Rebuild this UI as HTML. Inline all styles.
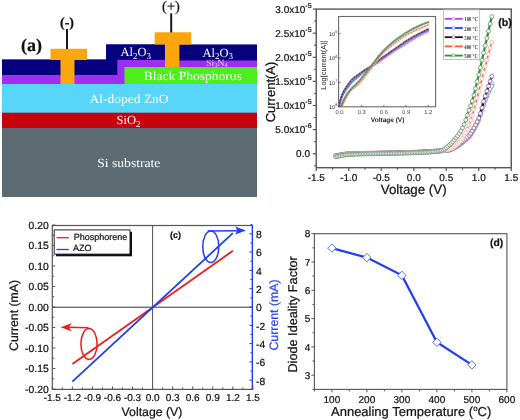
<!DOCTYPE html>
<html><head><meta charset="utf-8"><style>
html,body{margin:0;padding:0;background:#fff;width:520px;height:420px;overflow:hidden}
svg{display:block} text{-webkit-font-smoothing:antialiased;text-rendering:geometricPrecision} body{will-change:transform}
</style></head><body>
<svg width="520" height="420" viewBox="0 0 520 420">
<rect width="520" height="420" fill="#fff"/>
<rect x="2" y="59.5" width="255" height="25" fill="#9e2ff0"/>
<path d="M2,59.5 H106 V44.3 H166 V60 H117.3 V75 H2 Z" fill="#06017e"/>
<rect x="179" y="44.4" width="78" height="16.1" fill="#06017e"/>
<rect x="124.5" y="67" width="132.5" height="17.5" fill="#4cee1e"/>
<rect x="2" y="84" width="255" height="29" fill="#58d6f9"/>
<rect x="2" y="112.7" width="255" height="15.6" fill="#c6020c"/>
<rect x="2" y="128" width="255" height="69" fill="#5b6b71"/>
<path d="M50.5,48.8 H87 V60 H74.5 V84 H60.5 V60 H50.5 Z" fill="#faa60c"/>
<path d="M154.7,32.3 H191.2 V44.4 H179.4 V67 H165 V44.4 H154.7 Z" fill="#faa60c"/>
<rect x="66" y="29" width="2" height="20" fill="#1a1a1a"/>
<rect x="170.2" y="13.3" width="2" height="19.2" fill="#1a1a1a"/>
<text stroke="#111" stroke-width="0.22" x="21" y="50.5" font-family='"Liberation Serif", serif' font-weight="bold" font-size="18" fill="#111">(a)</text>
<text stroke="#111" stroke-width="0.22" x="67" y="26.8" text-anchor="middle" font-family='"Liberation Serif", serif' font-weight="bold" font-size="14" fill="#111">(-)</text>
<text stroke="#111" stroke-width="0.22" x="171" y="10.5" text-anchor="middle" font-family='"Liberation Serif", serif' font-size="14.5" fill="#111">(+)</text>
<text x="120.5" y="56.2" font-family='"Liberation Serif", serif' font-size="12.5" fill="#fff">Al<tspan font-size="9" dy="2.5">2</tspan><tspan dy="-2.5">O</tspan><tspan font-size="9" dy="2.5">3</tspan></text>
<text x="202.5" y="56.8" font-family='"Liberation Serif", serif' font-size="12.5" fill="#fff">Al<tspan font-size="9" dy="2.5">2</tspan><tspan dy="-2.5">O</tspan><tspan font-size="9" dy="2.5">3</tspan></text>
<text x="206.3" y="66.2" font-family='"Liberation Serif", serif' font-size="9.5" fill="#f0c8f4">Si<tspan font-size="6.5" dy="1.2">3</tspan><tspan dy="-1.2">N</tspan><tspan font-size="6.5" dy="1.2">4</tspan></text>
<text x="143.8" y="80" textLength="98" lengthAdjust="spacingAndGlyphs" font-family='"Liberation Serif", serif' font-size="12.5" fill="#fff">Black Phosphorus</text>
<text x="89.6" y="103.3" textLength="79" lengthAdjust="spacingAndGlyphs" font-family='"Liberation Serif", serif' font-size="12.5" fill="#fff">Al-doped ZnO</text>
<text x="116.5" y="124.4" font-family='"Liberation Serif", serif' font-size="12.5" fill="#fff">SiO<tspan font-size="9" dy="2.5">2</tspan></text>
<text x="97.3" y="167.1" textLength="63" lengthAdjust="spacingAndGlyphs" font-family='"Liberation Serif", serif' font-size="12.5" fill="#fff">Si substrate</text>
<path d="M335.75,155.63 L337.38,155.32 L339,155.02 L340.62,154.72 L342.25,154.43 L343.88,154.18 L345.5,153.97 L347.12,153.8 L348.75,153.7 L350.37,153.63 L352,153.57 L353.62,153.52 L355.25,153.47 L356.87,153.42 L358.5,153.38 L360.12,153.35 L361.75,153.31 L363.37,153.28 L365,153.25 L366.62,153.23 L368.25,153.2 L369.87,153.18 L371.5,153.15 L373.12,153.13 L374.75,153.1 L376.37,153.07 L378,153.04 L379.62,153.01 L381.25,152.98 L382.87,152.94 L384.5,152.91 L386.12,152.87 L387.75,152.84 L389.37,152.81 L391,152.78 L392.62,152.75 L394.25,152.72 L395.87,152.69 L397.5,152.65 L399.12,152.62 L400.75,152.59 L402.37,152.55 L404,152.52 L405.62,152.48 L407.25,152.44 L408.87,152.4 L410.5,152.35 L412.12,152.3 L413.75,152.25 L415.37,152.2 L417,152.14 L418.62,152.07 L420.25,151.99 L421.87,151.91 L423.5,151.83 L425.12,151.74 L426.75,151.65 L428.37,151.56 L430,151.47 L431.62,151.38 L433.25,151.29 L434.87,151.21 L436.5,151.13 L438.12,151.06 L439.75,150.99 L441.37,150.91 L443,150.81 L444.62,150.7 L446.25,150.57 L447.87,150.41 L449.5,150.17 L451.12,149.65 L452.75,148.92 L454.37,148.04 L456,147.11 L457.62,146.17 L459.25,145.12 L460.87,143.93 L462.5,142.66 L464.12,141.33 L465.75,139.98 L467.37,138.56 L469,136.96 L470.62,135.05 L472.25,132.63 L473.87,129.9 L475.5,127.08 L477.12,124.03 L478.75,120.45 L480.37,115.86 L482,110.61 L483.62,105.5 L485.25,100.73 L486.87,96.1 L488.5,91.75 L490.12,87.66 L491.75,83.81" fill="none" stroke="#b040e8" stroke-width="2.2"/>
<circle cx="335.75" cy="155.63" r="1.95" fill="#fff" stroke="#c888e8" stroke-width="0.85"/>
<circle cx="337.38" cy="155.32" r="1.95" fill="#fff" stroke="#c888e8" stroke-width="0.85"/>
<circle cx="339" cy="155.02" r="1.95" fill="#fff" stroke="#c888e8" stroke-width="0.85"/>
<circle cx="340.62" cy="154.72" r="1.95" fill="#fff" stroke="#c888e8" stroke-width="0.85"/>
<circle cx="342.25" cy="154.43" r="1.95" fill="#fff" stroke="#c888e8" stroke-width="0.85"/>
<circle cx="343.88" cy="154.18" r="1.95" fill="#fff" stroke="#c888e8" stroke-width="0.85"/>
<circle cx="345.5" cy="153.97" r="1.95" fill="#fff" stroke="#c888e8" stroke-width="0.85"/>
<circle cx="347.12" cy="153.8" r="1.95" fill="#fff" stroke="#c888e8" stroke-width="0.85"/>
<circle cx="348.75" cy="153.7" r="1.95" fill="#fff" stroke="#c888e8" stroke-width="0.85"/>
<circle cx="350.37" cy="153.63" r="1.95" fill="#fff" stroke="#c888e8" stroke-width="0.85"/>
<circle cx="352" cy="153.57" r="1.95" fill="#fff" stroke="#c888e8" stroke-width="0.85"/>
<circle cx="353.62" cy="153.52" r="1.95" fill="#fff" stroke="#c888e8" stroke-width="0.85"/>
<circle cx="355.25" cy="153.47" r="1.95" fill="#fff" stroke="#c888e8" stroke-width="0.85"/>
<circle cx="356.87" cy="153.42" r="1.95" fill="#fff" stroke="#c888e8" stroke-width="0.85"/>
<circle cx="358.5" cy="153.38" r="1.95" fill="#fff" stroke="#c888e8" stroke-width="0.85"/>
<circle cx="360.12" cy="153.35" r="1.95" fill="#fff" stroke="#c888e8" stroke-width="0.85"/>
<circle cx="361.75" cy="153.31" r="1.95" fill="#fff" stroke="#c888e8" stroke-width="0.85"/>
<circle cx="363.37" cy="153.28" r="1.95" fill="#fff" stroke="#c888e8" stroke-width="0.85"/>
<circle cx="365" cy="153.25" r="1.95" fill="#fff" stroke="#c888e8" stroke-width="0.85"/>
<circle cx="366.62" cy="153.23" r="1.95" fill="#fff" stroke="#c888e8" stroke-width="0.85"/>
<circle cx="368.25" cy="153.2" r="1.95" fill="#fff" stroke="#c888e8" stroke-width="0.85"/>
<circle cx="369.87" cy="153.18" r="1.95" fill="#fff" stroke="#c888e8" stroke-width="0.85"/>
<circle cx="371.5" cy="153.15" r="1.95" fill="#fff" stroke="#c888e8" stroke-width="0.85"/>
<circle cx="373.12" cy="153.13" r="1.95" fill="#fff" stroke="#c888e8" stroke-width="0.85"/>
<circle cx="374.75" cy="153.1" r="1.95" fill="#fff" stroke="#c888e8" stroke-width="0.85"/>
<circle cx="376.37" cy="153.07" r="1.95" fill="#fff" stroke="#c888e8" stroke-width="0.85"/>
<circle cx="378" cy="153.04" r="1.95" fill="#fff" stroke="#c888e8" stroke-width="0.85"/>
<circle cx="379.62" cy="153.01" r="1.95" fill="#fff" stroke="#c888e8" stroke-width="0.85"/>
<circle cx="381.25" cy="152.98" r="1.95" fill="#fff" stroke="#c888e8" stroke-width="0.85"/>
<circle cx="382.87" cy="152.94" r="1.95" fill="#fff" stroke="#c888e8" stroke-width="0.85"/>
<circle cx="384.5" cy="152.91" r="1.95" fill="#fff" stroke="#c888e8" stroke-width="0.85"/>
<circle cx="386.12" cy="152.87" r="1.95" fill="#fff" stroke="#c888e8" stroke-width="0.85"/>
<circle cx="387.75" cy="152.84" r="1.95" fill="#fff" stroke="#c888e8" stroke-width="0.85"/>
<circle cx="389.37" cy="152.81" r="1.95" fill="#fff" stroke="#c888e8" stroke-width="0.85"/>
<circle cx="391" cy="152.78" r="1.95" fill="#fff" stroke="#c888e8" stroke-width="0.85"/>
<circle cx="392.62" cy="152.75" r="1.95" fill="#fff" stroke="#c888e8" stroke-width="0.85"/>
<circle cx="394.25" cy="152.72" r="1.95" fill="#fff" stroke="#c888e8" stroke-width="0.85"/>
<circle cx="395.87" cy="152.69" r="1.95" fill="#fff" stroke="#c888e8" stroke-width="0.85"/>
<circle cx="397.5" cy="152.65" r="1.95" fill="#fff" stroke="#c888e8" stroke-width="0.85"/>
<circle cx="399.12" cy="152.62" r="1.95" fill="#fff" stroke="#c888e8" stroke-width="0.85"/>
<circle cx="400.75" cy="152.59" r="1.95" fill="#fff" stroke="#c888e8" stroke-width="0.85"/>
<circle cx="402.37" cy="152.55" r="1.95" fill="#fff" stroke="#c888e8" stroke-width="0.85"/>
<circle cx="404" cy="152.52" r="1.95" fill="#fff" stroke="#c888e8" stroke-width="0.85"/>
<circle cx="405.62" cy="152.48" r="1.95" fill="#fff" stroke="#c888e8" stroke-width="0.85"/>
<circle cx="407.25" cy="152.44" r="1.95" fill="#fff" stroke="#c888e8" stroke-width="0.85"/>
<circle cx="408.87" cy="152.4" r="1.95" fill="#fff" stroke="#c888e8" stroke-width="0.85"/>
<circle cx="410.5" cy="152.35" r="1.95" fill="#fff" stroke="#c888e8" stroke-width="0.85"/>
<circle cx="412.12" cy="152.3" r="1.95" fill="#fff" stroke="#c888e8" stroke-width="0.85"/>
<circle cx="413.75" cy="152.25" r="1.95" fill="#fff" stroke="#c888e8" stroke-width="0.85"/>
<circle cx="415.37" cy="152.2" r="1.95" fill="#fff" stroke="#c888e8" stroke-width="0.85"/>
<circle cx="417" cy="152.14" r="1.95" fill="#fff" stroke="#c888e8" stroke-width="0.85"/>
<circle cx="418.62" cy="152.07" r="1.95" fill="#fff" stroke="#c888e8" stroke-width="0.85"/>
<circle cx="420.25" cy="151.99" r="1.95" fill="#fff" stroke="#c888e8" stroke-width="0.85"/>
<circle cx="421.87" cy="151.91" r="1.95" fill="#fff" stroke="#c888e8" stroke-width="0.85"/>
<circle cx="423.5" cy="151.83" r="1.95" fill="#fff" stroke="#c888e8" stroke-width="0.85"/>
<circle cx="425.12" cy="151.74" r="1.95" fill="#fff" stroke="#c888e8" stroke-width="0.85"/>
<circle cx="426.75" cy="151.65" r="1.95" fill="#fff" stroke="#c888e8" stroke-width="0.85"/>
<circle cx="428.37" cy="151.56" r="1.95" fill="#fff" stroke="#c888e8" stroke-width="0.85"/>
<circle cx="430" cy="151.47" r="1.95" fill="#fff" stroke="#c888e8" stroke-width="0.85"/>
<circle cx="431.62" cy="151.38" r="1.95" fill="#fff" stroke="#c888e8" stroke-width="0.85"/>
<circle cx="433.25" cy="151.29" r="1.95" fill="#fff" stroke="#c888e8" stroke-width="0.85"/>
<circle cx="434.87" cy="151.21" r="1.95" fill="#fff" stroke="#c888e8" stroke-width="0.85"/>
<circle cx="436.5" cy="151.13" r="1.95" fill="#fff" stroke="#c888e8" stroke-width="0.85"/>
<circle cx="438.12" cy="151.06" r="1.95" fill="#fff" stroke="#c888e8" stroke-width="0.85"/>
<circle cx="439.75" cy="150.99" r="1.95" fill="#fff" stroke="#c888e8" stroke-width="0.85"/>
<circle cx="441.37" cy="150.91" r="1.95" fill="#fff" stroke="#c888e8" stroke-width="0.85"/>
<circle cx="443" cy="150.81" r="1.95" fill="#fff" stroke="#c888e8" stroke-width="0.85"/>
<circle cx="444.62" cy="150.7" r="1.95" fill="#fff" stroke="#c888e8" stroke-width="0.85"/>
<circle cx="446.25" cy="150.57" r="1.95" fill="#fff" stroke="#c888e8" stroke-width="0.85"/>
<circle cx="447.87" cy="150.41" r="1.95" fill="#fff" stroke="#c888e8" stroke-width="0.85"/>
<circle cx="449.5" cy="150.17" r="1.95" fill="#fff" stroke="#c888e8" stroke-width="0.85"/>
<circle cx="451.12" cy="149.65" r="1.95" fill="#fff" stroke="#c888e8" stroke-width="0.85"/>
<circle cx="452.75" cy="148.92" r="1.95" fill="#fff" stroke="#c888e8" stroke-width="0.85"/>
<circle cx="454.37" cy="148.04" r="1.95" fill="#fff" stroke="#c888e8" stroke-width="0.85"/>
<circle cx="456" cy="147.11" r="1.95" fill="#fff" stroke="#c888e8" stroke-width="0.85"/>
<circle cx="457.62" cy="146.17" r="1.95" fill="#fff" stroke="#c888e8" stroke-width="0.85"/>
<circle cx="459.25" cy="145.12" r="1.95" fill="#fff" stroke="#c888e8" stroke-width="0.85"/>
<circle cx="460.87" cy="143.93" r="1.95" fill="#fff" stroke="#c888e8" stroke-width="0.85"/>
<circle cx="462.5" cy="142.66" r="1.95" fill="#fff" stroke="#c888e8" stroke-width="0.85"/>
<circle cx="464.12" cy="141.33" r="1.95" fill="#fff" stroke="#c888e8" stroke-width="0.85"/>
<circle cx="465.75" cy="139.98" r="1.95" fill="#fff" stroke="#c888e8" stroke-width="0.85"/>
<circle cx="467.37" cy="138.56" r="1.95" fill="#fff" stroke="#c888e8" stroke-width="0.85"/>
<circle cx="469" cy="136.96" r="1.95" fill="#fff" stroke="#c888e8" stroke-width="0.85"/>
<circle cx="470.62" cy="135.05" r="1.95" fill="#fff" stroke="#c888e8" stroke-width="0.85"/>
<circle cx="472.25" cy="132.63" r="1.95" fill="#fff" stroke="#c888e8" stroke-width="0.85"/>
<circle cx="473.87" cy="129.9" r="1.95" fill="#fff" stroke="#c888e8" stroke-width="0.85"/>
<circle cx="475.5" cy="127.08" r="1.95" fill="#fff" stroke="#c888e8" stroke-width="0.85"/>
<circle cx="477.12" cy="124.03" r="1.95" fill="#fff" stroke="#c888e8" stroke-width="0.85"/>
<circle cx="478.75" cy="120.45" r="1.95" fill="#fff" stroke="#c888e8" stroke-width="0.85"/>
<circle cx="480.37" cy="115.86" r="1.95" fill="#fff" stroke="#c888e8" stroke-width="0.85"/>
<circle cx="482" cy="110.61" r="1.95" fill="#fff" stroke="#c888e8" stroke-width="0.85"/>
<circle cx="483.62" cy="105.5" r="1.95" fill="#fff" stroke="#c888e8" stroke-width="0.85"/>
<circle cx="485.25" cy="100.73" r="1.95" fill="#fff" stroke="#c888e8" stroke-width="0.85"/>
<circle cx="486.87" cy="96.1" r="1.95" fill="#fff" stroke="#c888e8" stroke-width="0.85"/>
<circle cx="488.5" cy="91.75" r="1.95" fill="#fff" stroke="#c888e8" stroke-width="0.85"/>
<circle cx="490.12" cy="87.66" r="1.95" fill="#fff" stroke="#c888e8" stroke-width="0.85"/>
<circle cx="491.75" cy="83.81" r="1.95" fill="#fff" stroke="#c888e8" stroke-width="0.85"/>
<path d="M335.75,155.87 L337.38,155.57 L339,155.26 L340.62,154.96 L342.25,154.68 L343.88,154.43 L345.5,154.22 L347.12,154.05 L348.75,153.94 L350.37,153.87 L352,153.8 L353.62,153.74 L355.25,153.68 L356.87,153.63 L358.5,153.58 L360.12,153.54 L361.75,153.5 L363.37,153.47 L365,153.44 L366.62,153.4 L368.25,153.37 L369.87,153.35 L371.5,153.32 L373.12,153.29 L374.75,153.26 L376.37,153.23 L378,153.19 L379.62,153.16 L381.25,153.12 L382.87,153.08 L384.5,153.05 L386.12,153.01 L387.75,152.98 L389.37,152.94 L391,152.91 L392.62,152.88 L394.25,152.84 L395.87,152.81 L397.5,152.78 L399.12,152.74 L400.75,152.71 L402.37,152.67 L404,152.63 L405.62,152.59 L407.25,152.55 L408.87,152.5 L410.5,152.45 L412.12,152.4 L413.75,152.35 L415.37,152.29 L417,152.22 L418.62,152.15 L420.25,152.07 L421.87,151.98 L423.5,151.89 L425.12,151.8 L426.75,151.7 L428.37,151.6 L430,151.5 L431.62,151.4 L433.25,151.29 L434.87,151.19 L436.5,151.1 L438.12,151.01 L439.75,150.91 L441.37,150.81 L443,150.69 L444.62,150.55 L446.25,150.38 L447.87,150.18 L449.5,149.9 L451.12,149.35 L452.75,148.57 L454.37,147.65 L456,146.66 L457.62,145.67 L459.25,144.57 L460.87,143.33 L462.5,142 L464.12,140.61 L465.75,139.21 L467.37,137.73 L469,136.05 L470.62,134.03 L472.25,131.41 L473.87,128.49 L475.5,125.6 L477.12,122.58 L478.75,119 L480.37,114.15 L482,108.61 L483.62,103.57 L485.25,99.37 L486.87,95.55 L488.5,92.12 L490.12,89 L491.75,86.22" fill="none" stroke="#1e3cff" stroke-width="2.2"/>
<circle cx="335.75" cy="155.87" r="1.95" fill="#fff" stroke="#7888f0" stroke-width="0.85"/>
<circle cx="337.38" cy="155.57" r="1.95" fill="#fff" stroke="#7888f0" stroke-width="0.85"/>
<circle cx="339" cy="155.26" r="1.95" fill="#fff" stroke="#7888f0" stroke-width="0.85"/>
<circle cx="340.62" cy="154.96" r="1.95" fill="#fff" stroke="#7888f0" stroke-width="0.85"/>
<circle cx="342.25" cy="154.68" r="1.95" fill="#fff" stroke="#7888f0" stroke-width="0.85"/>
<circle cx="343.88" cy="154.43" r="1.95" fill="#fff" stroke="#7888f0" stroke-width="0.85"/>
<circle cx="345.5" cy="154.22" r="1.95" fill="#fff" stroke="#7888f0" stroke-width="0.85"/>
<circle cx="347.12" cy="154.05" r="1.95" fill="#fff" stroke="#7888f0" stroke-width="0.85"/>
<circle cx="348.75" cy="153.94" r="1.95" fill="#fff" stroke="#7888f0" stroke-width="0.85"/>
<circle cx="350.37" cy="153.87" r="1.95" fill="#fff" stroke="#7888f0" stroke-width="0.85"/>
<circle cx="352" cy="153.8" r="1.95" fill="#fff" stroke="#7888f0" stroke-width="0.85"/>
<circle cx="353.62" cy="153.74" r="1.95" fill="#fff" stroke="#7888f0" stroke-width="0.85"/>
<circle cx="355.25" cy="153.68" r="1.95" fill="#fff" stroke="#7888f0" stroke-width="0.85"/>
<circle cx="356.87" cy="153.63" r="1.95" fill="#fff" stroke="#7888f0" stroke-width="0.85"/>
<circle cx="358.5" cy="153.58" r="1.95" fill="#fff" stroke="#7888f0" stroke-width="0.85"/>
<circle cx="360.12" cy="153.54" r="1.95" fill="#fff" stroke="#7888f0" stroke-width="0.85"/>
<circle cx="361.75" cy="153.5" r="1.95" fill="#fff" stroke="#7888f0" stroke-width="0.85"/>
<circle cx="363.37" cy="153.47" r="1.95" fill="#fff" stroke="#7888f0" stroke-width="0.85"/>
<circle cx="365" cy="153.44" r="1.95" fill="#fff" stroke="#7888f0" stroke-width="0.85"/>
<circle cx="366.62" cy="153.4" r="1.95" fill="#fff" stroke="#7888f0" stroke-width="0.85"/>
<circle cx="368.25" cy="153.37" r="1.95" fill="#fff" stroke="#7888f0" stroke-width="0.85"/>
<circle cx="369.87" cy="153.35" r="1.95" fill="#fff" stroke="#7888f0" stroke-width="0.85"/>
<circle cx="371.5" cy="153.32" r="1.95" fill="#fff" stroke="#7888f0" stroke-width="0.85"/>
<circle cx="373.12" cy="153.29" r="1.95" fill="#fff" stroke="#7888f0" stroke-width="0.85"/>
<circle cx="374.75" cy="153.26" r="1.95" fill="#fff" stroke="#7888f0" stroke-width="0.85"/>
<circle cx="376.37" cy="153.23" r="1.95" fill="#fff" stroke="#7888f0" stroke-width="0.85"/>
<circle cx="378" cy="153.19" r="1.95" fill="#fff" stroke="#7888f0" stroke-width="0.85"/>
<circle cx="379.62" cy="153.16" r="1.95" fill="#fff" stroke="#7888f0" stroke-width="0.85"/>
<circle cx="381.25" cy="153.12" r="1.95" fill="#fff" stroke="#7888f0" stroke-width="0.85"/>
<circle cx="382.87" cy="153.08" r="1.95" fill="#fff" stroke="#7888f0" stroke-width="0.85"/>
<circle cx="384.5" cy="153.05" r="1.95" fill="#fff" stroke="#7888f0" stroke-width="0.85"/>
<circle cx="386.12" cy="153.01" r="1.95" fill="#fff" stroke="#7888f0" stroke-width="0.85"/>
<circle cx="387.75" cy="152.98" r="1.95" fill="#fff" stroke="#7888f0" stroke-width="0.85"/>
<circle cx="389.37" cy="152.94" r="1.95" fill="#fff" stroke="#7888f0" stroke-width="0.85"/>
<circle cx="391" cy="152.91" r="1.95" fill="#fff" stroke="#7888f0" stroke-width="0.85"/>
<circle cx="392.62" cy="152.88" r="1.95" fill="#fff" stroke="#7888f0" stroke-width="0.85"/>
<circle cx="394.25" cy="152.84" r="1.95" fill="#fff" stroke="#7888f0" stroke-width="0.85"/>
<circle cx="395.87" cy="152.81" r="1.95" fill="#fff" stroke="#7888f0" stroke-width="0.85"/>
<circle cx="397.5" cy="152.78" r="1.95" fill="#fff" stroke="#7888f0" stroke-width="0.85"/>
<circle cx="399.12" cy="152.74" r="1.95" fill="#fff" stroke="#7888f0" stroke-width="0.85"/>
<circle cx="400.75" cy="152.71" r="1.95" fill="#fff" stroke="#7888f0" stroke-width="0.85"/>
<circle cx="402.37" cy="152.67" r="1.95" fill="#fff" stroke="#7888f0" stroke-width="0.85"/>
<circle cx="404" cy="152.63" r="1.95" fill="#fff" stroke="#7888f0" stroke-width="0.85"/>
<circle cx="405.62" cy="152.59" r="1.95" fill="#fff" stroke="#7888f0" stroke-width="0.85"/>
<circle cx="407.25" cy="152.55" r="1.95" fill="#fff" stroke="#7888f0" stroke-width="0.85"/>
<circle cx="408.87" cy="152.5" r="1.95" fill="#fff" stroke="#7888f0" stroke-width="0.85"/>
<circle cx="410.5" cy="152.45" r="1.95" fill="#fff" stroke="#7888f0" stroke-width="0.85"/>
<circle cx="412.12" cy="152.4" r="1.95" fill="#fff" stroke="#7888f0" stroke-width="0.85"/>
<circle cx="413.75" cy="152.35" r="1.95" fill="#fff" stroke="#7888f0" stroke-width="0.85"/>
<circle cx="415.37" cy="152.29" r="1.95" fill="#fff" stroke="#7888f0" stroke-width="0.85"/>
<circle cx="417" cy="152.22" r="1.95" fill="#fff" stroke="#7888f0" stroke-width="0.85"/>
<circle cx="418.62" cy="152.15" r="1.95" fill="#fff" stroke="#7888f0" stroke-width="0.85"/>
<circle cx="420.25" cy="152.07" r="1.95" fill="#fff" stroke="#7888f0" stroke-width="0.85"/>
<circle cx="421.87" cy="151.98" r="1.95" fill="#fff" stroke="#7888f0" stroke-width="0.85"/>
<circle cx="423.5" cy="151.89" r="1.95" fill="#fff" stroke="#7888f0" stroke-width="0.85"/>
<circle cx="425.12" cy="151.8" r="1.95" fill="#fff" stroke="#7888f0" stroke-width="0.85"/>
<circle cx="426.75" cy="151.7" r="1.95" fill="#fff" stroke="#7888f0" stroke-width="0.85"/>
<circle cx="428.37" cy="151.6" r="1.95" fill="#fff" stroke="#7888f0" stroke-width="0.85"/>
<circle cx="430" cy="151.5" r="1.95" fill="#fff" stroke="#7888f0" stroke-width="0.85"/>
<circle cx="431.62" cy="151.4" r="1.95" fill="#fff" stroke="#7888f0" stroke-width="0.85"/>
<circle cx="433.25" cy="151.29" r="1.95" fill="#fff" stroke="#7888f0" stroke-width="0.85"/>
<circle cx="434.87" cy="151.19" r="1.95" fill="#fff" stroke="#7888f0" stroke-width="0.85"/>
<circle cx="436.5" cy="151.1" r="1.95" fill="#fff" stroke="#7888f0" stroke-width="0.85"/>
<circle cx="438.12" cy="151.01" r="1.95" fill="#fff" stroke="#7888f0" stroke-width="0.85"/>
<circle cx="439.75" cy="150.91" r="1.95" fill="#fff" stroke="#7888f0" stroke-width="0.85"/>
<circle cx="441.37" cy="150.81" r="1.95" fill="#fff" stroke="#7888f0" stroke-width="0.85"/>
<circle cx="443" cy="150.69" r="1.95" fill="#fff" stroke="#7888f0" stroke-width="0.85"/>
<circle cx="444.62" cy="150.55" r="1.95" fill="#fff" stroke="#7888f0" stroke-width="0.85"/>
<circle cx="446.25" cy="150.38" r="1.95" fill="#fff" stroke="#7888f0" stroke-width="0.85"/>
<circle cx="447.87" cy="150.18" r="1.95" fill="#fff" stroke="#7888f0" stroke-width="0.85"/>
<circle cx="449.5" cy="149.9" r="1.95" fill="#fff" stroke="#7888f0" stroke-width="0.85"/>
<circle cx="451.12" cy="149.35" r="1.95" fill="#fff" stroke="#7888f0" stroke-width="0.85"/>
<circle cx="452.75" cy="148.57" r="1.95" fill="#fff" stroke="#7888f0" stroke-width="0.85"/>
<circle cx="454.37" cy="147.65" r="1.95" fill="#fff" stroke="#7888f0" stroke-width="0.85"/>
<circle cx="456" cy="146.66" r="1.95" fill="#fff" stroke="#7888f0" stroke-width="0.85"/>
<circle cx="457.62" cy="145.67" r="1.95" fill="#fff" stroke="#7888f0" stroke-width="0.85"/>
<circle cx="459.25" cy="144.57" r="1.95" fill="#fff" stroke="#7888f0" stroke-width="0.85"/>
<circle cx="460.87" cy="143.33" r="1.95" fill="#fff" stroke="#7888f0" stroke-width="0.85"/>
<circle cx="462.5" cy="142" r="1.95" fill="#fff" stroke="#7888f0" stroke-width="0.85"/>
<circle cx="464.12" cy="140.61" r="1.95" fill="#fff" stroke="#7888f0" stroke-width="0.85"/>
<circle cx="465.75" cy="139.21" r="1.95" fill="#fff" stroke="#7888f0" stroke-width="0.85"/>
<circle cx="467.37" cy="137.73" r="1.95" fill="#fff" stroke="#7888f0" stroke-width="0.85"/>
<circle cx="469" cy="136.05" r="1.95" fill="#fff" stroke="#7888f0" stroke-width="0.85"/>
<circle cx="470.62" cy="134.03" r="1.95" fill="#fff" stroke="#7888f0" stroke-width="0.85"/>
<circle cx="472.25" cy="131.41" r="1.95" fill="#fff" stroke="#7888f0" stroke-width="0.85"/>
<circle cx="473.87" cy="128.49" r="1.95" fill="#fff" stroke="#7888f0" stroke-width="0.85"/>
<circle cx="475.5" cy="125.6" r="1.95" fill="#fff" stroke="#7888f0" stroke-width="0.85"/>
<circle cx="477.12" cy="122.58" r="1.95" fill="#fff" stroke="#7888f0" stroke-width="0.85"/>
<circle cx="478.75" cy="119" r="1.95" fill="#fff" stroke="#7888f0" stroke-width="0.85"/>
<circle cx="480.37" cy="114.15" r="1.95" fill="#fff" stroke="#7888f0" stroke-width="0.85"/>
<circle cx="482" cy="108.61" r="1.95" fill="#fff" stroke="#7888f0" stroke-width="0.85"/>
<circle cx="483.62" cy="103.57" r="1.95" fill="#fff" stroke="#7888f0" stroke-width="0.85"/>
<circle cx="485.25" cy="99.37" r="1.95" fill="#fff" stroke="#7888f0" stroke-width="0.85"/>
<circle cx="486.87" cy="95.55" r="1.95" fill="#fff" stroke="#7888f0" stroke-width="0.85"/>
<circle cx="488.5" cy="92.12" r="1.95" fill="#fff" stroke="#7888f0" stroke-width="0.85"/>
<circle cx="490.12" cy="89" r="1.95" fill="#fff" stroke="#7888f0" stroke-width="0.85"/>
<circle cx="491.75" cy="86.22" r="1.95" fill="#fff" stroke="#7888f0" stroke-width="0.85"/>
<path d="M335.75,155.87 L337.38,155.57 L339,155.26 L340.62,154.96 L342.25,154.68 L343.88,154.43 L345.5,154.22 L347.12,154.05 L348.75,153.94 L350.37,153.87 L352,153.8 L353.62,153.74 L355.25,153.68 L356.87,153.63 L358.5,153.58 L360.12,153.54 L361.75,153.5 L363.37,153.47 L365,153.44 L366.62,153.4 L368.25,153.37 L369.87,153.35 L371.5,153.32 L373.12,153.29 L374.75,153.26 L376.37,153.23 L378,153.19 L379.62,153.16 L381.25,153.12 L382.87,153.08 L384.5,153.05 L386.12,153.01 L387.75,152.98 L389.37,152.94 L391,152.91 L392.62,152.88 L394.25,152.84 L395.87,152.81 L397.5,152.78 L399.12,152.74 L400.75,152.71 L402.37,152.67 L404,152.63 L405.62,152.59 L407.25,152.55 L408.87,152.5 L410.5,152.45 L412.12,152.4 L413.75,152.35 L415.37,152.29 L417,152.22 L418.62,152.15 L420.25,152.07 L421.87,151.99 L423.5,151.9 L425.12,151.81 L426.75,151.71 L428.37,151.61 L430,151.5 L431.62,151.4 L433.25,151.29 L434.87,151.19 L436.5,151.09 L438.12,150.99 L439.75,150.89 L441.37,150.78 L443,150.65 L444.62,150.49 L446.25,150.31 L447.87,150.1 L449.5,149.79 L451.12,149.21 L452.75,148.39 L454.37,147.43 L456,146.39 L457.62,145.37 L459.25,144.23 L460.87,142.96 L462.5,141.6 L464.12,140.18 L465.75,138.76 L467.37,137.27 L469,135.58 L470.62,133.54 L472.25,130.9 L473.87,127.93 L475.5,124.95 L477.12,121.81 L478.75,118.12 L480.37,113.43 L482,107.82 L483.62,101.4 L485.25,96.06 L486.87,91.11 L488.5,86.14 L490.12,81.18 L491.75,76.26" fill="none" stroke="#2a0a10" stroke-width="2.2"/>
<circle cx="335.75" cy="155.87" r="1.95" fill="#fff" stroke="#8a7090" stroke-width="0.85"/>
<circle cx="337.38" cy="155.57" r="1.95" fill="#fff" stroke="#8a7090" stroke-width="0.85"/>
<circle cx="339" cy="155.26" r="1.95" fill="#fff" stroke="#8a7090" stroke-width="0.85"/>
<circle cx="340.62" cy="154.96" r="1.95" fill="#fff" stroke="#8a7090" stroke-width="0.85"/>
<circle cx="342.25" cy="154.68" r="1.95" fill="#fff" stroke="#8a7090" stroke-width="0.85"/>
<circle cx="343.88" cy="154.43" r="1.95" fill="#fff" stroke="#8a7090" stroke-width="0.85"/>
<circle cx="345.5" cy="154.22" r="1.95" fill="#fff" stroke="#8a7090" stroke-width="0.85"/>
<circle cx="347.12" cy="154.05" r="1.95" fill="#fff" stroke="#8a7090" stroke-width="0.85"/>
<circle cx="348.75" cy="153.94" r="1.95" fill="#fff" stroke="#8a7090" stroke-width="0.85"/>
<circle cx="350.37" cy="153.87" r="1.95" fill="#fff" stroke="#8a7090" stroke-width="0.85"/>
<circle cx="352" cy="153.8" r="1.95" fill="#fff" stroke="#8a7090" stroke-width="0.85"/>
<circle cx="353.62" cy="153.74" r="1.95" fill="#fff" stroke="#8a7090" stroke-width="0.85"/>
<circle cx="355.25" cy="153.68" r="1.95" fill="#fff" stroke="#8a7090" stroke-width="0.85"/>
<circle cx="356.87" cy="153.63" r="1.95" fill="#fff" stroke="#8a7090" stroke-width="0.85"/>
<circle cx="358.5" cy="153.58" r="1.95" fill="#fff" stroke="#8a7090" stroke-width="0.85"/>
<circle cx="360.12" cy="153.54" r="1.95" fill="#fff" stroke="#8a7090" stroke-width="0.85"/>
<circle cx="361.75" cy="153.5" r="1.95" fill="#fff" stroke="#8a7090" stroke-width="0.85"/>
<circle cx="363.37" cy="153.47" r="1.95" fill="#fff" stroke="#8a7090" stroke-width="0.85"/>
<circle cx="365" cy="153.44" r="1.95" fill="#fff" stroke="#8a7090" stroke-width="0.85"/>
<circle cx="366.62" cy="153.4" r="1.95" fill="#fff" stroke="#8a7090" stroke-width="0.85"/>
<circle cx="368.25" cy="153.37" r="1.95" fill="#fff" stroke="#8a7090" stroke-width="0.85"/>
<circle cx="369.87" cy="153.35" r="1.95" fill="#fff" stroke="#8a7090" stroke-width="0.85"/>
<circle cx="371.5" cy="153.32" r="1.95" fill="#fff" stroke="#8a7090" stroke-width="0.85"/>
<circle cx="373.12" cy="153.29" r="1.95" fill="#fff" stroke="#8a7090" stroke-width="0.85"/>
<circle cx="374.75" cy="153.26" r="1.95" fill="#fff" stroke="#8a7090" stroke-width="0.85"/>
<circle cx="376.37" cy="153.23" r="1.95" fill="#fff" stroke="#8a7090" stroke-width="0.85"/>
<circle cx="378" cy="153.19" r="1.95" fill="#fff" stroke="#8a7090" stroke-width="0.85"/>
<circle cx="379.62" cy="153.16" r="1.95" fill="#fff" stroke="#8a7090" stroke-width="0.85"/>
<circle cx="381.25" cy="153.12" r="1.95" fill="#fff" stroke="#8a7090" stroke-width="0.85"/>
<circle cx="382.87" cy="153.08" r="1.95" fill="#fff" stroke="#8a7090" stroke-width="0.85"/>
<circle cx="384.5" cy="153.05" r="1.95" fill="#fff" stroke="#8a7090" stroke-width="0.85"/>
<circle cx="386.12" cy="153.01" r="1.95" fill="#fff" stroke="#8a7090" stroke-width="0.85"/>
<circle cx="387.75" cy="152.98" r="1.95" fill="#fff" stroke="#8a7090" stroke-width="0.85"/>
<circle cx="389.37" cy="152.94" r="1.95" fill="#fff" stroke="#8a7090" stroke-width="0.85"/>
<circle cx="391" cy="152.91" r="1.95" fill="#fff" stroke="#8a7090" stroke-width="0.85"/>
<circle cx="392.62" cy="152.88" r="1.95" fill="#fff" stroke="#8a7090" stroke-width="0.85"/>
<circle cx="394.25" cy="152.84" r="1.95" fill="#fff" stroke="#8a7090" stroke-width="0.85"/>
<circle cx="395.87" cy="152.81" r="1.95" fill="#fff" stroke="#8a7090" stroke-width="0.85"/>
<circle cx="397.5" cy="152.78" r="1.95" fill="#fff" stroke="#8a7090" stroke-width="0.85"/>
<circle cx="399.12" cy="152.74" r="1.95" fill="#fff" stroke="#8a7090" stroke-width="0.85"/>
<circle cx="400.75" cy="152.71" r="1.95" fill="#fff" stroke="#8a7090" stroke-width="0.85"/>
<circle cx="402.37" cy="152.67" r="1.95" fill="#fff" stroke="#8a7090" stroke-width="0.85"/>
<circle cx="404" cy="152.63" r="1.95" fill="#fff" stroke="#8a7090" stroke-width="0.85"/>
<circle cx="405.62" cy="152.59" r="1.95" fill="#fff" stroke="#8a7090" stroke-width="0.85"/>
<circle cx="407.25" cy="152.55" r="1.95" fill="#fff" stroke="#8a7090" stroke-width="0.85"/>
<circle cx="408.87" cy="152.5" r="1.95" fill="#fff" stroke="#8a7090" stroke-width="0.85"/>
<circle cx="410.5" cy="152.45" r="1.95" fill="#fff" stroke="#8a7090" stroke-width="0.85"/>
<circle cx="412.12" cy="152.4" r="1.95" fill="#fff" stroke="#8a7090" stroke-width="0.85"/>
<circle cx="413.75" cy="152.35" r="1.95" fill="#fff" stroke="#8a7090" stroke-width="0.85"/>
<circle cx="415.37" cy="152.29" r="1.95" fill="#fff" stroke="#8a7090" stroke-width="0.85"/>
<circle cx="417" cy="152.22" r="1.95" fill="#fff" stroke="#8a7090" stroke-width="0.85"/>
<circle cx="418.62" cy="152.15" r="1.95" fill="#fff" stroke="#8a7090" stroke-width="0.85"/>
<circle cx="420.25" cy="152.07" r="1.95" fill="#fff" stroke="#8a7090" stroke-width="0.85"/>
<circle cx="421.87" cy="151.99" r="1.95" fill="#fff" stroke="#8a7090" stroke-width="0.85"/>
<circle cx="423.5" cy="151.9" r="1.95" fill="#fff" stroke="#8a7090" stroke-width="0.85"/>
<circle cx="425.12" cy="151.81" r="1.95" fill="#fff" stroke="#8a7090" stroke-width="0.85"/>
<circle cx="426.75" cy="151.71" r="1.95" fill="#fff" stroke="#8a7090" stroke-width="0.85"/>
<circle cx="428.37" cy="151.61" r="1.95" fill="#fff" stroke="#8a7090" stroke-width="0.85"/>
<circle cx="430" cy="151.5" r="1.95" fill="#fff" stroke="#8a7090" stroke-width="0.85"/>
<circle cx="431.62" cy="151.4" r="1.95" fill="#fff" stroke="#8a7090" stroke-width="0.85"/>
<circle cx="433.25" cy="151.29" r="1.95" fill="#fff" stroke="#8a7090" stroke-width="0.85"/>
<circle cx="434.87" cy="151.19" r="1.95" fill="#fff" stroke="#8a7090" stroke-width="0.85"/>
<circle cx="436.5" cy="151.09" r="1.95" fill="#fff" stroke="#8a7090" stroke-width="0.85"/>
<circle cx="438.12" cy="150.99" r="1.95" fill="#fff" stroke="#8a7090" stroke-width="0.85"/>
<circle cx="439.75" cy="150.89" r="1.95" fill="#fff" stroke="#8a7090" stroke-width="0.85"/>
<circle cx="441.37" cy="150.78" r="1.95" fill="#fff" stroke="#8a7090" stroke-width="0.85"/>
<circle cx="443" cy="150.65" r="1.95" fill="#fff" stroke="#8a7090" stroke-width="0.85"/>
<circle cx="444.62" cy="150.49" r="1.95" fill="#fff" stroke="#8a7090" stroke-width="0.85"/>
<circle cx="446.25" cy="150.31" r="1.95" fill="#fff" stroke="#8a7090" stroke-width="0.85"/>
<circle cx="447.87" cy="150.1" r="1.95" fill="#fff" stroke="#8a7090" stroke-width="0.85"/>
<circle cx="449.5" cy="149.79" r="1.95" fill="#fff" stroke="#8a7090" stroke-width="0.85"/>
<circle cx="451.12" cy="149.21" r="1.95" fill="#fff" stroke="#8a7090" stroke-width="0.85"/>
<circle cx="452.75" cy="148.39" r="1.95" fill="#fff" stroke="#8a7090" stroke-width="0.85"/>
<circle cx="454.37" cy="147.43" r="1.95" fill="#fff" stroke="#8a7090" stroke-width="0.85"/>
<circle cx="456" cy="146.39" r="1.95" fill="#fff" stroke="#8a7090" stroke-width="0.85"/>
<circle cx="457.62" cy="145.37" r="1.95" fill="#fff" stroke="#8a7090" stroke-width="0.85"/>
<circle cx="459.25" cy="144.23" r="1.95" fill="#fff" stroke="#8a7090" stroke-width="0.85"/>
<circle cx="460.87" cy="142.96" r="1.95" fill="#fff" stroke="#8a7090" stroke-width="0.85"/>
<circle cx="462.5" cy="141.6" r="1.95" fill="#fff" stroke="#8a7090" stroke-width="0.85"/>
<circle cx="464.12" cy="140.18" r="1.95" fill="#fff" stroke="#8a7090" stroke-width="0.85"/>
<circle cx="465.75" cy="138.76" r="1.95" fill="#fff" stroke="#8a7090" stroke-width="0.85"/>
<circle cx="467.37" cy="137.27" r="1.95" fill="#fff" stroke="#8a7090" stroke-width="0.85"/>
<circle cx="469" cy="135.58" r="1.95" fill="#fff" stroke="#8a7090" stroke-width="0.85"/>
<circle cx="470.62" cy="133.54" r="1.95" fill="#fff" stroke="#8a7090" stroke-width="0.85"/>
<circle cx="472.25" cy="130.9" r="1.95" fill="#fff" stroke="#8a7090" stroke-width="0.85"/>
<circle cx="473.87" cy="127.93" r="1.95" fill="#fff" stroke="#8a7090" stroke-width="0.85"/>
<circle cx="475.5" cy="124.95" r="1.95" fill="#fff" stroke="#8a7090" stroke-width="0.85"/>
<circle cx="477.12" cy="121.81" r="1.95" fill="#fff" stroke="#8a7090" stroke-width="0.85"/>
<circle cx="478.75" cy="118.12" r="1.95" fill="#fff" stroke="#8a7090" stroke-width="0.85"/>
<circle cx="480.37" cy="113.43" r="1.95" fill="#fff" stroke="#8a7090" stroke-width="0.85"/>
<circle cx="482" cy="107.82" r="1.95" fill="#fff" stroke="#8a7090" stroke-width="0.85"/>
<circle cx="483.62" cy="101.4" r="1.95" fill="#fff" stroke="#8a7090" stroke-width="0.85"/>
<circle cx="485.25" cy="96.06" r="1.95" fill="#fff" stroke="#8a7090" stroke-width="0.85"/>
<circle cx="486.87" cy="91.11" r="1.95" fill="#fff" stroke="#8a7090" stroke-width="0.85"/>
<circle cx="488.5" cy="86.14" r="1.95" fill="#fff" stroke="#8a7090" stroke-width="0.85"/>
<circle cx="490.12" cy="81.18" r="1.95" fill="#fff" stroke="#8a7090" stroke-width="0.85"/>
<circle cx="491.75" cy="76.26" r="1.95" fill="#fff" stroke="#8a7090" stroke-width="0.85"/>
<path d="M335.75,156.35 L337.38,156.01 L339,155.67 L340.62,155.33 L342.25,155.01 L343.88,154.73 L345.5,154.49 L347.12,154.3 L348.75,154.18 L350.37,154.1 L352,154.03 L353.62,153.96 L355.25,153.9 L356.87,153.85 L358.5,153.8 L360.12,153.75 L361.75,153.71 L363.37,153.67 L365,153.63 L366.62,153.6 L368.25,153.57 L369.87,153.54 L371.5,153.51 L373.12,153.48 L374.75,153.45 L376.37,153.42 L378,153.39 L379.62,153.35 L381.25,153.31 L382.87,153.28 L384.5,153.24 L386.12,153.21 L387.75,153.18 L389.37,153.15 L391,153.12 L392.62,153.09 L394.25,153.06 L395.87,153.03 L397.5,153 L399.12,152.97 L400.75,152.94 L402.37,152.91 L404,152.88 L405.62,152.84 L407.25,152.81 L408.87,152.77 L410.5,152.73 L412.12,152.69 L413.75,152.64 L415.37,152.59 L417,152.54 L418.62,152.49 L420.25,152.43 L421.87,152.37 L423.5,152.3 L425.12,152.23 L426.75,152.15 L428.37,152.07 L430,151.98 L431.62,151.88 L433.25,151.77 L434.87,151.64 L436.5,151.48 L438.12,151.28 L439.75,151.06 L441.37,150.82 L443,150.57 L444.62,150.3 L446.25,150 L447.87,149.65 L449.5,149.23 L451.12,148.71 L452.75,147.97 L454.37,146.85 L456,145.46 L457.62,143.89 L459.25,142.23 L460.87,140.37 L462.5,138.24 L464.12,135.79 L465.75,132.97 L467.37,129.37 L469,124.92 L470.62,120.15 L472.25,115.2 L473.87,109.84 L475.5,104.14 L477.12,97.99 L478.75,91.54 L480.37,85 L482,78.58 L483.62,72.39 L485.25,66.26 L486.87,60.17 L488.5,54.14 L490.12,48.16 L491.75,42.24" fill="none" stroke="#ff5a1e" stroke-width="1.6"/>
<circle cx="335.75" cy="156.35" r="1.95" fill="#fff" stroke="#f4b4a4" stroke-width="0.85"/>
<circle cx="337.38" cy="156.01" r="1.95" fill="#fff" stroke="#f4b4a4" stroke-width="0.85"/>
<circle cx="339" cy="155.67" r="1.95" fill="#fff" stroke="#f4b4a4" stroke-width="0.85"/>
<circle cx="340.62" cy="155.33" r="1.95" fill="#fff" stroke="#f4b4a4" stroke-width="0.85"/>
<circle cx="342.25" cy="155.01" r="1.95" fill="#fff" stroke="#f4b4a4" stroke-width="0.85"/>
<circle cx="343.88" cy="154.73" r="1.95" fill="#fff" stroke="#f4b4a4" stroke-width="0.85"/>
<circle cx="345.5" cy="154.49" r="1.95" fill="#fff" stroke="#f4b4a4" stroke-width="0.85"/>
<circle cx="347.12" cy="154.3" r="1.95" fill="#fff" stroke="#f4b4a4" stroke-width="0.85"/>
<circle cx="348.75" cy="154.18" r="1.95" fill="#fff" stroke="#f4b4a4" stroke-width="0.85"/>
<circle cx="350.37" cy="154.1" r="1.95" fill="#fff" stroke="#f4b4a4" stroke-width="0.85"/>
<circle cx="352" cy="154.03" r="1.95" fill="#fff" stroke="#f4b4a4" stroke-width="0.85"/>
<circle cx="353.62" cy="153.96" r="1.95" fill="#fff" stroke="#f4b4a4" stroke-width="0.85"/>
<circle cx="355.25" cy="153.9" r="1.95" fill="#fff" stroke="#f4b4a4" stroke-width="0.85"/>
<circle cx="356.87" cy="153.85" r="1.95" fill="#fff" stroke="#f4b4a4" stroke-width="0.85"/>
<circle cx="358.5" cy="153.8" r="1.95" fill="#fff" stroke="#f4b4a4" stroke-width="0.85"/>
<circle cx="360.12" cy="153.75" r="1.95" fill="#fff" stroke="#f4b4a4" stroke-width="0.85"/>
<circle cx="361.75" cy="153.71" r="1.95" fill="#fff" stroke="#f4b4a4" stroke-width="0.85"/>
<circle cx="363.37" cy="153.67" r="1.95" fill="#fff" stroke="#f4b4a4" stroke-width="0.85"/>
<circle cx="365" cy="153.63" r="1.95" fill="#fff" stroke="#f4b4a4" stroke-width="0.85"/>
<circle cx="366.62" cy="153.6" r="1.95" fill="#fff" stroke="#f4b4a4" stroke-width="0.85"/>
<circle cx="368.25" cy="153.57" r="1.95" fill="#fff" stroke="#f4b4a4" stroke-width="0.85"/>
<circle cx="369.87" cy="153.54" r="1.95" fill="#fff" stroke="#f4b4a4" stroke-width="0.85"/>
<circle cx="371.5" cy="153.51" r="1.95" fill="#fff" stroke="#f4b4a4" stroke-width="0.85"/>
<circle cx="373.12" cy="153.48" r="1.95" fill="#fff" stroke="#f4b4a4" stroke-width="0.85"/>
<circle cx="374.75" cy="153.45" r="1.95" fill="#fff" stroke="#f4b4a4" stroke-width="0.85"/>
<circle cx="376.37" cy="153.42" r="1.95" fill="#fff" stroke="#f4b4a4" stroke-width="0.85"/>
<circle cx="378" cy="153.39" r="1.95" fill="#fff" stroke="#f4b4a4" stroke-width="0.85"/>
<circle cx="379.62" cy="153.35" r="1.95" fill="#fff" stroke="#f4b4a4" stroke-width="0.85"/>
<circle cx="381.25" cy="153.31" r="1.95" fill="#fff" stroke="#f4b4a4" stroke-width="0.85"/>
<circle cx="382.87" cy="153.28" r="1.95" fill="#fff" stroke="#f4b4a4" stroke-width="0.85"/>
<circle cx="384.5" cy="153.24" r="1.95" fill="#fff" stroke="#f4b4a4" stroke-width="0.85"/>
<circle cx="386.12" cy="153.21" r="1.95" fill="#fff" stroke="#f4b4a4" stroke-width="0.85"/>
<circle cx="387.75" cy="153.18" r="1.95" fill="#fff" stroke="#f4b4a4" stroke-width="0.85"/>
<circle cx="389.37" cy="153.15" r="1.95" fill="#fff" stroke="#f4b4a4" stroke-width="0.85"/>
<circle cx="391" cy="153.12" r="1.95" fill="#fff" stroke="#f4b4a4" stroke-width="0.85"/>
<circle cx="392.62" cy="153.09" r="1.95" fill="#fff" stroke="#f4b4a4" stroke-width="0.85"/>
<circle cx="394.25" cy="153.06" r="1.95" fill="#fff" stroke="#f4b4a4" stroke-width="0.85"/>
<circle cx="395.87" cy="153.03" r="1.95" fill="#fff" stroke="#f4b4a4" stroke-width="0.85"/>
<circle cx="397.5" cy="153" r="1.95" fill="#fff" stroke="#f4b4a4" stroke-width="0.85"/>
<circle cx="399.12" cy="152.97" r="1.95" fill="#fff" stroke="#f4b4a4" stroke-width="0.85"/>
<circle cx="400.75" cy="152.94" r="1.95" fill="#fff" stroke="#f4b4a4" stroke-width="0.85"/>
<circle cx="402.37" cy="152.91" r="1.95" fill="#fff" stroke="#f4b4a4" stroke-width="0.85"/>
<circle cx="404" cy="152.88" r="1.95" fill="#fff" stroke="#f4b4a4" stroke-width="0.85"/>
<circle cx="405.62" cy="152.84" r="1.95" fill="#fff" stroke="#f4b4a4" stroke-width="0.85"/>
<circle cx="407.25" cy="152.81" r="1.95" fill="#fff" stroke="#f4b4a4" stroke-width="0.85"/>
<circle cx="408.87" cy="152.77" r="1.95" fill="#fff" stroke="#f4b4a4" stroke-width="0.85"/>
<circle cx="410.5" cy="152.73" r="1.95" fill="#fff" stroke="#f4b4a4" stroke-width="0.85"/>
<circle cx="412.12" cy="152.69" r="1.95" fill="#fff" stroke="#f4b4a4" stroke-width="0.85"/>
<circle cx="413.75" cy="152.64" r="1.95" fill="#fff" stroke="#f4b4a4" stroke-width="0.85"/>
<circle cx="415.37" cy="152.59" r="1.95" fill="#fff" stroke="#f4b4a4" stroke-width="0.85"/>
<circle cx="417" cy="152.54" r="1.95" fill="#fff" stroke="#f4b4a4" stroke-width="0.85"/>
<circle cx="418.62" cy="152.49" r="1.95" fill="#fff" stroke="#f4b4a4" stroke-width="0.85"/>
<circle cx="420.25" cy="152.43" r="1.95" fill="#fff" stroke="#f4b4a4" stroke-width="0.85"/>
<circle cx="421.87" cy="152.37" r="1.95" fill="#fff" stroke="#f4b4a4" stroke-width="0.85"/>
<circle cx="423.5" cy="152.3" r="1.95" fill="#fff" stroke="#f4b4a4" stroke-width="0.85"/>
<circle cx="425.12" cy="152.23" r="1.95" fill="#fff" stroke="#f4b4a4" stroke-width="0.85"/>
<circle cx="426.75" cy="152.15" r="1.95" fill="#fff" stroke="#f4b4a4" stroke-width="0.85"/>
<circle cx="428.37" cy="152.07" r="1.95" fill="#fff" stroke="#f4b4a4" stroke-width="0.85"/>
<circle cx="430" cy="151.98" r="1.95" fill="#fff" stroke="#f4b4a4" stroke-width="0.85"/>
<circle cx="431.62" cy="151.88" r="1.95" fill="#fff" stroke="#f4b4a4" stroke-width="0.85"/>
<circle cx="433.25" cy="151.77" r="1.95" fill="#fff" stroke="#f4b4a4" stroke-width="0.85"/>
<circle cx="434.87" cy="151.64" r="1.95" fill="#fff" stroke="#f4b4a4" stroke-width="0.85"/>
<circle cx="436.5" cy="151.48" r="1.95" fill="#fff" stroke="#f4b4a4" stroke-width="0.85"/>
<circle cx="438.12" cy="151.28" r="1.95" fill="#fff" stroke="#f4b4a4" stroke-width="0.85"/>
<circle cx="439.75" cy="151.06" r="1.95" fill="#fff" stroke="#f4b4a4" stroke-width="0.85"/>
<circle cx="441.37" cy="150.82" r="1.95" fill="#fff" stroke="#f4b4a4" stroke-width="0.85"/>
<circle cx="443" cy="150.57" r="1.95" fill="#fff" stroke="#f4b4a4" stroke-width="0.85"/>
<circle cx="444.62" cy="150.3" r="1.95" fill="#fff" stroke="#f4b4a4" stroke-width="0.85"/>
<circle cx="446.25" cy="150" r="1.95" fill="#fff" stroke="#f4b4a4" stroke-width="0.85"/>
<circle cx="447.87" cy="149.65" r="1.95" fill="#fff" stroke="#f4b4a4" stroke-width="0.85"/>
<circle cx="449.5" cy="149.23" r="1.95" fill="#fff" stroke="#f4b4a4" stroke-width="0.85"/>
<circle cx="451.12" cy="148.71" r="1.95" fill="#fff" stroke="#f4b4a4" stroke-width="0.85"/>
<circle cx="452.75" cy="147.97" r="1.95" fill="#fff" stroke="#f4b4a4" stroke-width="0.85"/>
<circle cx="454.37" cy="146.85" r="1.95" fill="#fff" stroke="#f4b4a4" stroke-width="0.85"/>
<circle cx="456" cy="145.46" r="1.95" fill="#fff" stroke="#f4b4a4" stroke-width="0.85"/>
<circle cx="457.62" cy="143.89" r="1.95" fill="#fff" stroke="#f4b4a4" stroke-width="0.85"/>
<circle cx="459.25" cy="142.23" r="1.95" fill="#fff" stroke="#f4b4a4" stroke-width="0.85"/>
<circle cx="460.87" cy="140.37" r="1.95" fill="#fff" stroke="#f4b4a4" stroke-width="0.85"/>
<circle cx="462.5" cy="138.24" r="1.95" fill="#fff" stroke="#f4b4a4" stroke-width="0.85"/>
<circle cx="464.12" cy="135.79" r="1.95" fill="#fff" stroke="#f4b4a4" stroke-width="0.85"/>
<circle cx="465.75" cy="132.97" r="1.95" fill="#fff" stroke="#f4b4a4" stroke-width="0.85"/>
<circle cx="467.37" cy="129.37" r="1.95" fill="#fff" stroke="#f4b4a4" stroke-width="0.85"/>
<circle cx="469" cy="124.92" r="1.95" fill="#fff" stroke="#f4b4a4" stroke-width="0.85"/>
<circle cx="470.62" cy="120.15" r="1.95" fill="#fff" stroke="#f4b4a4" stroke-width="0.85"/>
<circle cx="472.25" cy="115.2" r="1.95" fill="#fff" stroke="#f4b4a4" stroke-width="0.85"/>
<circle cx="473.87" cy="109.84" r="1.95" fill="#fff" stroke="#f4b4a4" stroke-width="0.85"/>
<circle cx="475.5" cy="104.14" r="1.95" fill="#fff" stroke="#f4b4a4" stroke-width="0.85"/>
<circle cx="477.12" cy="97.99" r="1.95" fill="#fff" stroke="#f4b4a4" stroke-width="0.85"/>
<circle cx="478.75" cy="91.54" r="1.95" fill="#fff" stroke="#f4b4a4" stroke-width="0.85"/>
<circle cx="480.37" cy="85" r="1.95" fill="#fff" stroke="#f4b4a4" stroke-width="0.85"/>
<circle cx="482" cy="78.58" r="1.95" fill="#fff" stroke="#f4b4a4" stroke-width="0.85"/>
<circle cx="483.62" cy="72.39" r="1.95" fill="#fff" stroke="#f4b4a4" stroke-width="0.85"/>
<circle cx="485.25" cy="66.26" r="1.95" fill="#fff" stroke="#f4b4a4" stroke-width="0.85"/>
<circle cx="486.87" cy="60.17" r="1.95" fill="#fff" stroke="#f4b4a4" stroke-width="0.85"/>
<circle cx="488.5" cy="54.14" r="1.95" fill="#fff" stroke="#f4b4a4" stroke-width="0.85"/>
<circle cx="490.12" cy="48.16" r="1.95" fill="#fff" stroke="#f4b4a4" stroke-width="0.85"/>
<circle cx="491.75" cy="42.24" r="1.95" fill="#fff" stroke="#f4b4a4" stroke-width="0.85"/>
<path d="M335.75,156.83 L337.38,156.48 L339,156.12 L340.62,155.77 L342.25,155.45 L343.88,155.15 L345.5,154.9 L347.12,154.7 L348.75,154.57 L350.37,154.48 L352,154.39 L353.62,154.32 L355.25,154.25 L356.87,154.18 L358.5,154.12 L360.12,154.07 L361.75,154.02 L363.37,153.97 L365,153.93 L366.62,153.89 L368.25,153.85 L369.87,153.81 L371.5,153.78 L373.12,153.74 L374.75,153.71 L376.37,153.67 L378,153.63 L379.62,153.6 L381.25,153.56 L382.87,153.51 L384.5,153.48 L386.12,153.44 L387.75,153.41 L389.37,153.37 L391,153.34 L392.62,153.31 L394.25,153.28 L395.87,153.25 L397.5,153.22 L399.12,153.19 L400.75,153.16 L402.37,153.13 L404,153.09 L405.62,153.06 L407.25,153.02 L408.87,152.98 L410.5,152.93 L412.12,152.88 L413.75,152.83 L415.37,152.78 L417,152.72 L418.62,152.66 L420.25,152.59 L421.87,152.52 L423.5,152.44 L425.12,152.35 L426.75,152.26 L428.37,152.15 L430,152.04 L431.62,151.91 L433.25,151.77 L434.87,151.61 L436.5,151.4 L438.12,151.14 L439.75,150.81 L441.37,150.42 L443,149.95 L444.62,149.08 L446.25,147.79 L447.87,146.33 L449.5,144.9 L451.12,143.38 L452.75,141.72 L454.37,139.94 L456,137.98 L457.62,135.82 L459.25,133.46 L460.87,130.9 L462.5,127.97 L464.12,124.32 L465.75,119.96 L467.37,115.13 L469,110.26 L470.62,105.84 L472.25,100.97 L473.87,95.07 L475.5,88.46 L477.12,81.59 L478.75,74.69 L480.37,67.52 L482,60.19 L483.62,52.82 L485.25,45.54 L486.87,38.31 L488.5,31.08 L490.12,23.85 L491.75,16.62" fill="none" stroke="#1e9a28" stroke-width="2.2"/>
<circle cx="335.75" cy="156.83" r="1.95" fill="#fff" stroke="#6f8f75" stroke-width="0.85"/>
<circle cx="337.38" cy="156.48" r="1.95" fill="#fff" stroke="#6f8f75" stroke-width="0.85"/>
<circle cx="339" cy="156.12" r="1.95" fill="#fff" stroke="#6f8f75" stroke-width="0.85"/>
<circle cx="340.62" cy="155.77" r="1.95" fill="#fff" stroke="#6f8f75" stroke-width="0.85"/>
<circle cx="342.25" cy="155.45" r="1.95" fill="#fff" stroke="#6f8f75" stroke-width="0.85"/>
<circle cx="343.88" cy="155.15" r="1.95" fill="#fff" stroke="#6f8f75" stroke-width="0.85"/>
<circle cx="345.5" cy="154.9" r="1.95" fill="#fff" stroke="#6f8f75" stroke-width="0.85"/>
<circle cx="347.12" cy="154.7" r="1.95" fill="#fff" stroke="#6f8f75" stroke-width="0.85"/>
<circle cx="348.75" cy="154.57" r="1.95" fill="#fff" stroke="#6f8f75" stroke-width="0.85"/>
<circle cx="350.37" cy="154.48" r="1.95" fill="#fff" stroke="#6f8f75" stroke-width="0.85"/>
<circle cx="352" cy="154.39" r="1.95" fill="#fff" stroke="#6f8f75" stroke-width="0.85"/>
<circle cx="353.62" cy="154.32" r="1.95" fill="#fff" stroke="#6f8f75" stroke-width="0.85"/>
<circle cx="355.25" cy="154.25" r="1.95" fill="#fff" stroke="#6f8f75" stroke-width="0.85"/>
<circle cx="356.87" cy="154.18" r="1.95" fill="#fff" stroke="#6f8f75" stroke-width="0.85"/>
<circle cx="358.5" cy="154.12" r="1.95" fill="#fff" stroke="#6f8f75" stroke-width="0.85"/>
<circle cx="360.12" cy="154.07" r="1.95" fill="#fff" stroke="#6f8f75" stroke-width="0.85"/>
<circle cx="361.75" cy="154.02" r="1.95" fill="#fff" stroke="#6f8f75" stroke-width="0.85"/>
<circle cx="363.37" cy="153.97" r="1.95" fill="#fff" stroke="#6f8f75" stroke-width="0.85"/>
<circle cx="365" cy="153.93" r="1.95" fill="#fff" stroke="#6f8f75" stroke-width="0.85"/>
<circle cx="366.62" cy="153.89" r="1.95" fill="#fff" stroke="#6f8f75" stroke-width="0.85"/>
<circle cx="368.25" cy="153.85" r="1.95" fill="#fff" stroke="#6f8f75" stroke-width="0.85"/>
<circle cx="369.87" cy="153.81" r="1.95" fill="#fff" stroke="#6f8f75" stroke-width="0.85"/>
<circle cx="371.5" cy="153.78" r="1.95" fill="#fff" stroke="#6f8f75" stroke-width="0.85"/>
<circle cx="373.12" cy="153.74" r="1.95" fill="#fff" stroke="#6f8f75" stroke-width="0.85"/>
<circle cx="374.75" cy="153.71" r="1.95" fill="#fff" stroke="#6f8f75" stroke-width="0.85"/>
<circle cx="376.37" cy="153.67" r="1.95" fill="#fff" stroke="#6f8f75" stroke-width="0.85"/>
<circle cx="378" cy="153.63" r="1.95" fill="#fff" stroke="#6f8f75" stroke-width="0.85"/>
<circle cx="379.62" cy="153.6" r="1.95" fill="#fff" stroke="#6f8f75" stroke-width="0.85"/>
<circle cx="381.25" cy="153.56" r="1.95" fill="#fff" stroke="#6f8f75" stroke-width="0.85"/>
<circle cx="382.87" cy="153.51" r="1.95" fill="#fff" stroke="#6f8f75" stroke-width="0.85"/>
<circle cx="384.5" cy="153.48" r="1.95" fill="#fff" stroke="#6f8f75" stroke-width="0.85"/>
<circle cx="386.12" cy="153.44" r="1.95" fill="#fff" stroke="#6f8f75" stroke-width="0.85"/>
<circle cx="387.75" cy="153.41" r="1.95" fill="#fff" stroke="#6f8f75" stroke-width="0.85"/>
<circle cx="389.37" cy="153.37" r="1.95" fill="#fff" stroke="#6f8f75" stroke-width="0.85"/>
<circle cx="391" cy="153.34" r="1.95" fill="#fff" stroke="#6f8f75" stroke-width="0.85"/>
<circle cx="392.62" cy="153.31" r="1.95" fill="#fff" stroke="#6f8f75" stroke-width="0.85"/>
<circle cx="394.25" cy="153.28" r="1.95" fill="#fff" stroke="#6f8f75" stroke-width="0.85"/>
<circle cx="395.87" cy="153.25" r="1.95" fill="#fff" stroke="#6f8f75" stroke-width="0.85"/>
<circle cx="397.5" cy="153.22" r="1.95" fill="#fff" stroke="#6f8f75" stroke-width="0.85"/>
<circle cx="399.12" cy="153.19" r="1.95" fill="#fff" stroke="#6f8f75" stroke-width="0.85"/>
<circle cx="400.75" cy="153.16" r="1.95" fill="#fff" stroke="#6f8f75" stroke-width="0.85"/>
<circle cx="402.37" cy="153.13" r="1.95" fill="#fff" stroke="#6f8f75" stroke-width="0.85"/>
<circle cx="404" cy="153.09" r="1.95" fill="#fff" stroke="#6f8f75" stroke-width="0.85"/>
<circle cx="405.62" cy="153.06" r="1.95" fill="#fff" stroke="#6f8f75" stroke-width="0.85"/>
<circle cx="407.25" cy="153.02" r="1.95" fill="#fff" stroke="#6f8f75" stroke-width="0.85"/>
<circle cx="408.87" cy="152.98" r="1.95" fill="#fff" stroke="#6f8f75" stroke-width="0.85"/>
<circle cx="410.5" cy="152.93" r="1.95" fill="#fff" stroke="#6f8f75" stroke-width="0.85"/>
<circle cx="412.12" cy="152.88" r="1.95" fill="#fff" stroke="#6f8f75" stroke-width="0.85"/>
<circle cx="413.75" cy="152.83" r="1.95" fill="#fff" stroke="#6f8f75" stroke-width="0.85"/>
<circle cx="415.37" cy="152.78" r="1.95" fill="#fff" stroke="#6f8f75" stroke-width="0.85"/>
<circle cx="417" cy="152.72" r="1.95" fill="#fff" stroke="#6f8f75" stroke-width="0.85"/>
<circle cx="418.62" cy="152.66" r="1.95" fill="#fff" stroke="#6f8f75" stroke-width="0.85"/>
<circle cx="420.25" cy="152.59" r="1.95" fill="#fff" stroke="#6f8f75" stroke-width="0.85"/>
<circle cx="421.87" cy="152.52" r="1.95" fill="#fff" stroke="#6f8f75" stroke-width="0.85"/>
<circle cx="423.5" cy="152.44" r="1.95" fill="#fff" stroke="#6f8f75" stroke-width="0.85"/>
<circle cx="425.12" cy="152.35" r="1.95" fill="#fff" stroke="#6f8f75" stroke-width="0.85"/>
<circle cx="426.75" cy="152.26" r="1.95" fill="#fff" stroke="#6f8f75" stroke-width="0.85"/>
<circle cx="428.37" cy="152.15" r="1.95" fill="#fff" stroke="#6f8f75" stroke-width="0.85"/>
<circle cx="430" cy="152.04" r="1.95" fill="#fff" stroke="#6f8f75" stroke-width="0.85"/>
<circle cx="431.62" cy="151.91" r="1.95" fill="#fff" stroke="#6f8f75" stroke-width="0.85"/>
<circle cx="433.25" cy="151.77" r="1.95" fill="#fff" stroke="#6f8f75" stroke-width="0.85"/>
<circle cx="434.87" cy="151.61" r="1.95" fill="#fff" stroke="#6f8f75" stroke-width="0.85"/>
<circle cx="436.5" cy="151.4" r="1.95" fill="#fff" stroke="#6f8f75" stroke-width="0.85"/>
<circle cx="438.12" cy="151.14" r="1.95" fill="#fff" stroke="#6f8f75" stroke-width="0.85"/>
<circle cx="439.75" cy="150.81" r="1.95" fill="#fff" stroke="#6f8f75" stroke-width="0.85"/>
<circle cx="441.37" cy="150.42" r="1.95" fill="#fff" stroke="#6f8f75" stroke-width="0.85"/>
<circle cx="443" cy="149.95" r="1.95" fill="#fff" stroke="#6f8f75" stroke-width="0.85"/>
<circle cx="444.62" cy="149.08" r="1.95" fill="#fff" stroke="#6f8f75" stroke-width="0.85"/>
<circle cx="446.25" cy="147.79" r="1.95" fill="#fff" stroke="#6f8f75" stroke-width="0.85"/>
<circle cx="447.87" cy="146.33" r="1.95" fill="#fff" stroke="#6f8f75" stroke-width="0.85"/>
<circle cx="449.5" cy="144.9" r="1.95" fill="#fff" stroke="#6f8f75" stroke-width="0.85"/>
<circle cx="451.12" cy="143.38" r="1.95" fill="#fff" stroke="#6f8f75" stroke-width="0.85"/>
<circle cx="452.75" cy="141.72" r="1.95" fill="#fff" stroke="#6f8f75" stroke-width="0.85"/>
<circle cx="454.37" cy="139.94" r="1.95" fill="#fff" stroke="#6f8f75" stroke-width="0.85"/>
<circle cx="456" cy="137.98" r="1.95" fill="#fff" stroke="#6f8f75" stroke-width="0.85"/>
<circle cx="457.62" cy="135.82" r="1.95" fill="#fff" stroke="#6f8f75" stroke-width="0.85"/>
<circle cx="459.25" cy="133.46" r="1.95" fill="#fff" stroke="#6f8f75" stroke-width="0.85"/>
<circle cx="460.87" cy="130.9" r="1.95" fill="#fff" stroke="#6f8f75" stroke-width="0.85"/>
<circle cx="462.5" cy="127.97" r="1.95" fill="#fff" stroke="#6f8f75" stroke-width="0.85"/>
<circle cx="464.12" cy="124.32" r="1.95" fill="#fff" stroke="#6f8f75" stroke-width="0.85"/>
<circle cx="465.75" cy="119.96" r="1.95" fill="#fff" stroke="#6f8f75" stroke-width="0.85"/>
<circle cx="467.37" cy="115.13" r="1.95" fill="#fff" stroke="#6f8f75" stroke-width="0.85"/>
<circle cx="469" cy="110.26" r="1.95" fill="#fff" stroke="#6f8f75" stroke-width="0.85"/>
<circle cx="470.62" cy="105.84" r="1.95" fill="#fff" stroke="#6f8f75" stroke-width="0.85"/>
<circle cx="472.25" cy="100.97" r="1.95" fill="#fff" stroke="#6f8f75" stroke-width="0.85"/>
<circle cx="473.87" cy="95.07" r="1.95" fill="#fff" stroke="#6f8f75" stroke-width="0.85"/>
<circle cx="475.5" cy="88.46" r="1.95" fill="#fff" stroke="#6f8f75" stroke-width="0.85"/>
<circle cx="477.12" cy="81.59" r="1.95" fill="#fff" stroke="#6f8f75" stroke-width="0.85"/>
<circle cx="478.75" cy="74.69" r="1.95" fill="#fff" stroke="#6f8f75" stroke-width="0.85"/>
<circle cx="480.37" cy="67.52" r="1.95" fill="#fff" stroke="#6f8f75" stroke-width="0.85"/>
<circle cx="482" cy="60.19" r="1.95" fill="#fff" stroke="#6f8f75" stroke-width="0.85"/>
<circle cx="483.62" cy="52.82" r="1.95" fill="#fff" stroke="#6f8f75" stroke-width="0.85"/>
<circle cx="485.25" cy="45.54" r="1.95" fill="#fff" stroke="#6f8f75" stroke-width="0.85"/>
<circle cx="486.87" cy="38.31" r="1.95" fill="#fff" stroke="#6f8f75" stroke-width="0.85"/>
<circle cx="488.5" cy="31.08" r="1.95" fill="#fff" stroke="#6f8f75" stroke-width="0.85"/>
<circle cx="490.12" cy="23.85" r="1.95" fill="#fff" stroke="#6f8f75" stroke-width="0.85"/>
<circle cx="491.75" cy="16.62" r="1.95" fill="#fff" stroke="#6f8f75" stroke-width="0.85"/>
<rect x="316.25" y="9.1" width="195" height="158.6" fill="none" stroke="#555555" stroke-width="1.4"/>
<line x1="312.8" y1="153.7" x2="316.25" y2="153.7" stroke="#555555" stroke-width="1.2" />
<line x1="312.8" y1="129.6" x2="316.25" y2="129.6" stroke="#555555" stroke-width="1.2" />
<line x1="312.8" y1="105.5" x2="316.25" y2="105.5" stroke="#555555" stroke-width="1.2" />
<line x1="312.8" y1="81.4" x2="316.25" y2="81.4" stroke="#555555" stroke-width="1.2" />
<line x1="312.8" y1="57.3" x2="316.25" y2="57.3" stroke="#555555" stroke-width="1.2" />
<line x1="312.8" y1="33.2" x2="316.25" y2="33.2" stroke="#555555" stroke-width="1.2" />
<line x1="312.8" y1="9.1" x2="316.25" y2="9.1" stroke="#555555" stroke-width="1.2" />
<line x1="314" y1="165.75" x2="316.25" y2="165.75" stroke="#555555" stroke-width="1.0" />
<line x1="314" y1="141.65" x2="316.25" y2="141.65" stroke="#555555" stroke-width="1.0" />
<line x1="314" y1="117.55" x2="316.25" y2="117.55" stroke="#555555" stroke-width="1.0" />
<line x1="314" y1="93.45" x2="316.25" y2="93.45" stroke="#555555" stroke-width="1.0" />
<line x1="314" y1="69.35" x2="316.25" y2="69.35" stroke="#555555" stroke-width="1.0" />
<line x1="314" y1="45.25" x2="316.25" y2="45.25" stroke="#555555" stroke-width="1.0" />
<line x1="314" y1="21.15" x2="316.25" y2="21.15" stroke="#555555" stroke-width="1.0" />
<text stroke="#111" stroke-width="0.22" x="310" y="157.3" text-anchor="end" font-family='"Liberation Sans", sans-serif' font-size="10" fill="#111">0.0</text>
<text stroke="#111" stroke-width="0.22" x="275.3" y="133.2" font-family='"Liberation Sans", sans-serif' font-size="10" fill="#111">5.0x10<tspan font-size="7" dy="-4.8">-6</tspan></text>
<text stroke="#111" stroke-width="0.22" x="275.3" y="109.1" font-family='"Liberation Sans", sans-serif' font-size="10" fill="#111">1.0x10<tspan font-size="7" dy="-4.8">-5</tspan></text>
<text stroke="#111" stroke-width="0.22" x="275.3" y="85" font-family='"Liberation Sans", sans-serif' font-size="10" fill="#111">1.5x10<tspan font-size="7" dy="-4.8">-5</tspan></text>
<text stroke="#111" stroke-width="0.22" x="275.3" y="60.9" font-family='"Liberation Sans", sans-serif' font-size="10" fill="#111">2.0x10<tspan font-size="7" dy="-4.8">-5</tspan></text>
<text stroke="#111" stroke-width="0.22" x="275.3" y="36.8" font-family='"Liberation Sans", sans-serif' font-size="10" fill="#111">2.5x10<tspan font-size="7" dy="-4.8">-5</tspan></text>
<text stroke="#111" stroke-width="0.22" x="275.3" y="12.7" font-family='"Liberation Sans", sans-serif' font-size="10" fill="#111">3.0x10<tspan font-size="7" dy="-4.8">-5</tspan></text>
<line x1="316.25" y1="167.7" x2="316.25" y2="171" stroke="#555555" stroke-width="1.2" />
<line x1="332.5" y1="167.7" x2="332.5" y2="169.8" stroke="#555555" stroke-width="1.0" />
<text stroke="#111" stroke-width="0.22" x="316.25" y="181" text-anchor="middle" font-family='"Liberation Sans", sans-serif' font-size="10" fill="#111">-1.5</text>
<line x1="348.75" y1="167.7" x2="348.75" y2="171" stroke="#555555" stroke-width="1.2" />
<line x1="365" y1="167.7" x2="365" y2="169.8" stroke="#555555" stroke-width="1.0" />
<text stroke="#111" stroke-width="0.22" x="348.75" y="181" text-anchor="middle" font-family='"Liberation Sans", sans-serif' font-size="10" fill="#111">-1.0</text>
<line x1="381.25" y1="167.7" x2="381.25" y2="171" stroke="#555555" stroke-width="1.2" />
<line x1="397.5" y1="167.7" x2="397.5" y2="169.8" stroke="#555555" stroke-width="1.0" />
<text stroke="#111" stroke-width="0.22" x="381.25" y="181" text-anchor="middle" font-family='"Liberation Sans", sans-serif' font-size="10" fill="#111">-0.5</text>
<line x1="413.75" y1="167.7" x2="413.75" y2="171" stroke="#555555" stroke-width="1.2" />
<line x1="430" y1="167.7" x2="430" y2="169.8" stroke="#555555" stroke-width="1.0" />
<text stroke="#111" stroke-width="0.22" x="413.75" y="181" text-anchor="middle" font-family='"Liberation Sans", sans-serif' font-size="10" fill="#111">0.0</text>
<line x1="446.25" y1="167.7" x2="446.25" y2="171" stroke="#555555" stroke-width="1.2" />
<line x1="462.5" y1="167.7" x2="462.5" y2="169.8" stroke="#555555" stroke-width="1.0" />
<text stroke="#111" stroke-width="0.22" x="446.25" y="181" text-anchor="middle" font-family='"Liberation Sans", sans-serif' font-size="10" fill="#111">0.5</text>
<line x1="478.75" y1="167.7" x2="478.75" y2="171" stroke="#555555" stroke-width="1.2" />
<line x1="495" y1="167.7" x2="495" y2="169.8" stroke="#555555" stroke-width="1.0" />
<text stroke="#111" stroke-width="0.22" x="478.75" y="181" text-anchor="middle" font-family='"Liberation Sans", sans-serif' font-size="10" fill="#111">1.0</text>
<line x1="511.25" y1="167.7" x2="511.25" y2="171" stroke="#555555" stroke-width="1.2" />
<text stroke="#111" stroke-width="0.22" x="511.25" y="181" text-anchor="middle" font-family='"Liberation Sans", sans-serif' font-size="10" fill="#111">1.5</text>
<text stroke="#111" stroke-width="0.22" x="413.7" y="193.6" text-anchor="middle" font-family='"Liberation Sans", sans-serif' font-size="13.3" fill="#111">Voltage (V)</text>
<text stroke="#111" stroke-width="0.22" transform="translate(275,92) rotate(-90)" text-anchor="middle" font-family='"Liberation Sans", sans-serif' font-size="13" fill="#111">Current(A)</text>
<text stroke="#111" stroke-width="0.22" x="498.2" y="26" font-family='"Liberation Sans", sans-serif' font-weight="bold" font-size="10.6" fill="#111">(b)</text>
<rect x="443.5" y="9.8" width="36.2" height="49.7" fill="#fff" stroke="#b0b0b0" stroke-width="0.8"/>
<line x1="444.7" y1="18.8" x2="462.8" y2="18.8" stroke="#b040e8" stroke-width="1.8" />
<circle cx="453.5" cy="18.8" r="1.5" fill="#fff" stroke="#c888e8" stroke-width="0.7"/>
<text x="464.3" y="21.4" textLength="13.5" lengthAdjust="spacingAndGlyphs" font-family='"Liberation Serif", serif' font-weight="bold" font-size="6.2" fill="#333">100 °C</text>
<line x1="444.7" y1="28" x2="462.8" y2="28" stroke="#1e3cff" stroke-width="1.8" />
<circle cx="453.5" cy="28" r="1.5" fill="#fff" stroke="#7888f0" stroke-width="0.7"/>
<text x="464.3" y="30.6" textLength="13.5" lengthAdjust="spacingAndGlyphs" font-family='"Liberation Serif", serif' font-weight="bold" font-size="6.2" fill="#333">200 °C</text>
<line x1="444.7" y1="37.2" x2="462.8" y2="37.2" stroke="#2a0a10" stroke-width="1.8" />
<circle cx="453.5" cy="37.2" r="1.5" fill="#fff" stroke="#8a7090" stroke-width="0.7"/>
<text x="464.3" y="39.8" textLength="13.5" lengthAdjust="spacingAndGlyphs" font-family='"Liberation Serif", serif' font-weight="bold" font-size="6.2" fill="#333">300 °C</text>
<line x1="444.7" y1="46.4" x2="462.8" y2="46.4" stroke="#ff5a1e" stroke-width="1.8" />
<circle cx="453.5" cy="46.4" r="1.5" fill="#fff" stroke="#f4b4a4" stroke-width="0.7"/>
<text x="464.3" y="49" textLength="13.5" lengthAdjust="spacingAndGlyphs" font-family='"Liberation Serif", serif' font-weight="bold" font-size="6.2" fill="#333">400 °C</text>
<line x1="444.7" y1="55.6" x2="462.8" y2="55.6" stroke="#1e9a28" stroke-width="1.8" />
<circle cx="453.5" cy="55.6" r="1.5" fill="#fff" stroke="#6f8f75" stroke-width="0.7"/>
<text x="464.3" y="58.2" textLength="13.5" lengthAdjust="spacingAndGlyphs" font-family='"Liberation Serif", serif' font-weight="bold" font-size="6.2" fill="#333">500 °C</text>
<rect x="338.6" y="16.5" width="97" height="90.3" fill="#fff" stroke="#6a6a6a" stroke-width="1.1"/>
<path d="M338.8,106.4 L340.33,100.87 L341.86,96.35 L343.39,92.96 L344.92,90.15 L346.44,87.69 L347.97,85.43 L349.5,83.36 L351.03,81.53 L352.56,79.95 L354.09,78.58 L355.62,77.35 L357.15,76.21 L358.67,75.09 L360.2,74.01 L361.73,72.98 L363.26,71.98 L364.79,70.99 L366.32,70.03 L367.85,69.09 L369.38,68.14 L370.91,67.17 L372.43,66.17 L373.96,65.16 L375.49,64.14 L377.02,63.11 L378.55,62.07 L380.08,61.03 L381.61,59.98 L383.14,58.93 L384.66,57.87 L386.19,56.79 L387.72,55.7 L389.25,54.62 L390.78,53.54 L392.31,52.48 L393.84,51.44 L395.37,50.43 L396.89,49.44 L398.42,48.46 L399.95,47.49 L401.48,46.54 L403.01,45.59 L404.54,44.65 L406.07,43.7 L407.6,42.76 L409.13,41.81 L410.65,40.85 L412.18,39.91 L413.71,38.98 L415.24,38.07 L416.77,37.18 L418.3,36.34 L419.83,35.51 L421.36,34.71 L422.88,33.93 L424.41,33.16 L425.94,32.42 L427.47,31.7 L429,31" fill="none" stroke="#c888e8" stroke-width="2.1" opacity="0.85"/>
<path d="M338.8,106.4 L340.33,100.87 L341.86,96.35 L343.39,92.96 L344.92,90.15 L346.44,87.69 L347.97,85.43 L349.5,83.36 L351.03,81.53 L352.56,79.95 L354.09,78.58 L355.62,77.35 L357.15,76.21 L358.67,75.09 L360.2,74.01 L361.73,72.98 L363.26,71.98 L364.79,70.99 L366.32,70.03 L367.85,69.09 L369.38,68.14 L370.91,67.17 L372.43,66.17 L373.96,65.16 L375.49,64.14 L377.02,63.11 L378.55,62.07 L380.08,61.03 L381.61,59.98 L383.14,58.93 L384.66,57.87 L386.19,56.79 L387.72,55.7 L389.25,54.62 L390.78,53.54 L392.31,52.48 L393.84,51.44 L395.37,50.43 L396.89,49.44 L398.42,48.46 L399.95,47.49 L401.48,46.54 L403.01,45.59 L404.54,44.65 L406.07,43.7 L407.6,42.76 L409.13,41.81 L410.65,40.85 L412.18,39.91 L413.71,38.98 L415.24,38.07 L416.77,37.18 L418.3,36.34 L419.83,35.51 L421.36,34.71 L422.88,33.93 L424.41,33.16 L425.94,32.42 L427.47,31.7 L429,31" fill="none" stroke="#c070f0" stroke-width="1.0" stroke-dasharray="1.5 1.5"/>
<path d="M338.8,106.4 L340.33,101.07 L341.86,96.82 L343.39,93.82 L344.92,91.41 L346.44,89.25 L347.97,87.07 L349.5,84.98 L351.03,83.07 L352.56,81.44 L354.09,80.04 L355.62,78.79 L357.15,77.58 L358.67,76.31 L360.2,74.91 L361.73,73.46 L363.26,72.1 L364.79,70.92 L366.32,69.9 L367.85,68.95 L369.38,68 L370.91,66.95 L372.43,65.81 L373.96,64.6 L375.49,63.35 L377.02,62.07 L378.55,60.8 L380.08,59.55 L381.61,58.35 L383.14,57.21 L384.66,56.12 L386.19,55.06 L387.72,54.02 L389.25,53 L390.78,51.98 L392.31,50.97 L393.84,49.95 L395.37,48.91 L396.89,47.86 L398.42,46.81 L399.95,45.76 L401.48,44.72 L403.01,43.69 L404.54,42.68 L406.07,41.71 L407.6,40.76 L409.13,39.83 L410.65,38.92 L412.18,38.02 L413.71,37.14 L415.24,36.29 L416.77,35.45 L418.3,34.64 L419.83,33.85 L421.36,33.08 L422.88,32.33 L424.41,31.59 L425.94,30.87 L427.47,30.18 L429,29.5" fill="none" stroke="#7888f0" stroke-width="2.1" opacity="0.85"/>
<path d="M338.8,106.4 L340.33,101.07 L341.86,96.82 L343.39,93.82 L344.92,91.41 L346.44,89.25 L347.97,87.07 L349.5,84.98 L351.03,83.07 L352.56,81.44 L354.09,80.04 L355.62,78.79 L357.15,77.58 L358.67,76.31 L360.2,74.91 L361.73,73.46 L363.26,72.1 L364.79,70.92 L366.32,69.9 L367.85,68.95 L369.38,68 L370.91,66.95 L372.43,65.81 L373.96,64.6 L375.49,63.35 L377.02,62.07 L378.55,60.8 L380.08,59.55 L381.61,58.35 L383.14,57.21 L384.66,56.12 L386.19,55.06 L387.72,54.02 L389.25,53 L390.78,51.98 L392.31,50.97 L393.84,49.95 L395.37,48.91 L396.89,47.86 L398.42,46.81 L399.95,45.76 L401.48,44.72 L403.01,43.69 L404.54,42.68 L406.07,41.71 L407.6,40.76 L409.13,39.83 L410.65,38.92 L412.18,38.02 L413.71,37.14 L415.24,36.29 L416.77,35.45 L418.3,34.64 L419.83,33.85 L421.36,33.08 L422.88,32.33 L424.41,31.59 L425.94,30.87 L427.47,30.18 L429,29.5" fill="none" stroke="#3050ff" stroke-width="1.0" stroke-dasharray="1.5 1.5"/>
<path d="M338.8,106.4 L340.33,100.24 L341.86,95.36 L343.39,91.97 L344.92,89.26 L346.44,86.89 L347.97,84.59 L349.5,82.44 L351.03,80.53 L352.56,78.97 L354.09,77.68 L355.62,76.55 L357.15,75.48 L358.67,74.39 L360.2,73.24 L361.73,72.1 L363.26,71 L364.79,69.99 L366.32,69.08 L367.85,68.22 L369.38,67.33 L370.91,66.36 L372.43,65.31 L373.96,64.2 L375.49,63.04 L377.02,61.86 L378.55,60.67 L380.08,59.48 L381.61,58.33 L383.14,57.21 L384.66,56.13 L386.19,55.05 L387.72,53.99 L389.25,52.93 L390.78,51.88 L392.31,50.82 L393.84,49.76 L395.37,48.69 L396.89,47.6 L398.42,46.51 L399.95,45.41 L401.48,44.32 L403.01,43.25 L404.54,42.21 L406.07,41.21 L407.6,40.25 L409.13,39.32 L410.65,38.41 L412.18,37.52 L413.71,36.65 L415.24,35.8 L416.77,34.96 L418.3,34.14 L419.83,33.33 L421.36,32.54 L422.88,31.76 L424.41,30.99 L425.94,30.25 L427.47,29.52 L429,28.8" fill="none" stroke="#8a7090" stroke-width="2.1" opacity="0.85"/>
<path d="M338.8,106.4 L340.33,100.24 L341.86,95.36 L343.39,91.97 L344.92,89.26 L346.44,86.89 L347.97,84.59 L349.5,82.44 L351.03,80.53 L352.56,78.97 L354.09,77.68 L355.62,76.55 L357.15,75.48 L358.67,74.39 L360.2,73.24 L361.73,72.1 L363.26,71 L364.79,69.99 L366.32,69.08 L367.85,68.22 L369.38,67.33 L370.91,66.36 L372.43,65.31 L373.96,64.2 L375.49,63.04 L377.02,61.86 L378.55,60.67 L380.08,59.48 L381.61,58.33 L383.14,57.21 L384.66,56.13 L386.19,55.05 L387.72,53.99 L389.25,52.93 L390.78,51.88 L392.31,50.82 L393.84,49.76 L395.37,48.69 L396.89,47.6 L398.42,46.51 L399.95,45.41 L401.48,44.32 L403.01,43.25 L404.54,42.21 L406.07,41.21 L407.6,40.25 L409.13,39.32 L410.65,38.41 L412.18,37.52 L413.71,36.65 L415.24,35.8 L416.77,34.96 L418.3,34.14 L419.83,33.33 L421.36,32.54 L422.88,31.76 L424.41,30.99 L425.94,30.25 L427.47,29.52 L429,28.8" fill="none" stroke="#301018" stroke-width="1.0" stroke-dasharray="1.5 1.5"/>
<path d="M342.1,106.4 L343.57,102.97 L345.05,99.85 L346.52,97.04 L347.99,94.43 L349.46,92.18 L350.94,90.46 L352.41,89.07 L353.88,87.87 L355.36,86.74 L356.83,85.59 L358.3,84.29 L359.77,82.78 L361.25,81.12 L362.72,79.35 L364.19,77.49 L365.67,75.59 L367.14,73.65 L368.61,71.71 L370.08,69.79 L371.56,67.89 L373.03,65.91 L374.5,63.88 L375.98,61.83 L377.45,59.8 L378.92,57.84 L380.39,55.99 L381.87,54.28 L383.34,52.75 L384.81,51.31 L386.29,49.96 L387.76,48.67 L389.23,47.44 L390.71,46.25 L392.18,45.09 L393.65,43.95 L395.12,42.82 L396.6,41.7 L398.07,40.6 L399.54,39.52 L401.02,38.47 L402.49,37.46 L403.96,36.49 L405.43,35.57 L406.91,34.71 L408.38,33.88 L409.85,33.09 L411.33,32.34 L412.8,31.61 L414.27,30.9 L415.74,30.22 L417.22,29.55 L418.69,28.9 L420.16,28.26 L421.64,27.63 L423.11,27.03 L424.58,26.44 L426.05,25.88 L427.53,25.33 L429,24.8" fill="none" stroke="#f4b4a4" stroke-width="2.1" opacity="0.85"/>
<path d="M342.1,106.4 L343.57,102.97 L345.05,99.85 L346.52,97.04 L347.99,94.43 L349.46,92.18 L350.94,90.46 L352.41,89.07 L353.88,87.87 L355.36,86.74 L356.83,85.59 L358.3,84.29 L359.77,82.78 L361.25,81.12 L362.72,79.35 L364.19,77.49 L365.67,75.59 L367.14,73.65 L368.61,71.71 L370.08,69.79 L371.56,67.89 L373.03,65.91 L374.5,63.88 L375.98,61.83 L377.45,59.8 L378.92,57.84 L380.39,55.99 L381.87,54.28 L383.34,52.75 L384.81,51.31 L386.29,49.96 L387.76,48.67 L389.23,47.44 L390.71,46.25 L392.18,45.09 L393.65,43.95 L395.12,42.82 L396.6,41.7 L398.07,40.6 L399.54,39.52 L401.02,38.47 L402.49,37.46 L403.96,36.49 L405.43,35.57 L406.91,34.71 L408.38,33.88 L409.85,33.09 L411.33,32.34 L412.8,31.61 L414.27,30.9 L415.74,30.22 L417.22,29.55 L418.69,28.9 L420.16,28.26 L421.64,27.63 L423.11,27.03 L424.58,26.44 L426.05,25.88 L427.53,25.33 L429,24.8" fill="none" stroke="#ff6030" stroke-width="1.0" stroke-dasharray="1.5 1.5"/>
<path d="M341,106.4 L342.49,102.73 L343.98,99.46 L345.47,96.66 L346.97,94.23 L348.46,92.09 L349.95,90.22 L351.44,88.58 L352.93,87.1 L354.42,85.7 L355.92,84.32 L357.41,82.87 L358.9,81.29 L360.39,79.57 L361.88,77.77 L363.37,75.91 L364.86,74 L366.36,72.07 L367.85,70.14 L369.34,68.22 L370.83,66.34 L372.32,64.44 L373.81,62.51 L375.31,60.56 L376.8,58.62 L378.29,56.73 L379.78,54.9 L381.27,53.15 L382.76,51.53 L384.25,49.99 L385.75,48.5 L387.24,47.07 L388.73,45.69 L390.22,44.36 L391.71,43.07 L393.2,41.84 L394.69,40.65 L396.19,39.5 L397.68,38.39 L399.17,37.32 L400.66,36.29 L402.15,35.29 L403.64,34.32 L405.14,33.38 L406.63,32.46 L408.12,31.57 L409.61,30.7 L411.1,29.85 L412.59,29.02 L414.08,28.23 L415.58,27.46 L417.07,26.74 L418.56,26.04 L420.05,25.38 L421.54,24.73 L423.03,24.11 L424.53,23.52 L426.02,22.95 L427.51,22.41 L429,21.9" fill="none" stroke="#6f8f75" stroke-width="2.1" opacity="0.85"/>
<path d="M341,106.4 L342.49,102.73 L343.98,99.46 L345.47,96.66 L346.97,94.23 L348.46,92.09 L349.95,90.22 L351.44,88.58 L352.93,87.1 L354.42,85.7 L355.92,84.32 L357.41,82.87 L358.9,81.29 L360.39,79.57 L361.88,77.77 L363.37,75.91 L364.86,74 L366.36,72.07 L367.85,70.14 L369.34,68.22 L370.83,66.34 L372.32,64.44 L373.81,62.51 L375.31,60.56 L376.8,58.62 L378.29,56.73 L379.78,54.9 L381.27,53.15 L382.76,51.53 L384.25,49.99 L385.75,48.5 L387.24,47.07 L388.73,45.69 L390.22,44.36 L391.71,43.07 L393.2,41.84 L394.69,40.65 L396.19,39.5 L397.68,38.39 L399.17,37.32 L400.66,36.29 L402.15,35.29 L403.64,34.32 L405.14,33.38 L406.63,32.46 L408.12,31.57 L409.61,30.7 L411.1,29.85 L412.59,29.02 L414.08,28.23 L415.58,27.46 L417.07,26.74 L418.56,26.04 L420.05,25.38 L421.54,24.73 L423.03,24.11 L424.53,23.52 L426.02,22.95 L427.51,22.41 L429,21.9" fill="none" stroke="#20a030" stroke-width="1.0" stroke-dasharray="1.5 1.5"/>
<line x1="339.5" y1="106.8" x2="339.5" y2="104.8" stroke="#555555" stroke-width="0.8" />
<text x="339.5" y="114" text-anchor="middle" font-family='"Liberation Sans", sans-serif' font-size="5.8" fill="#444">0.0</text>
<line x1="361.7" y1="106.8" x2="361.7" y2="104.8" stroke="#555555" stroke-width="0.8" />
<text x="361.7" y="114" text-anchor="middle" font-family='"Liberation Sans", sans-serif' font-size="5.8" fill="#444">0.3</text>
<line x1="383.9" y1="106.8" x2="383.9" y2="104.8" stroke="#555555" stroke-width="0.8" />
<text x="383.9" y="114" text-anchor="middle" font-family='"Liberation Sans", sans-serif' font-size="5.8" fill="#444">0.6</text>
<line x1="406.1" y1="106.8" x2="406.1" y2="104.8" stroke="#555555" stroke-width="0.8" />
<text x="406.1" y="114" text-anchor="middle" font-family='"Liberation Sans", sans-serif' font-size="5.8" fill="#444">0.9</text>
<line x1="428.3" y1="106.8" x2="428.3" y2="104.8" stroke="#555555" stroke-width="0.8" />
<text x="428.3" y="114" text-anchor="middle" font-family='"Liberation Sans", sans-serif' font-size="5.8" fill="#444">1.2</text>
<line x1="338.6" y1="106.6" x2="340.6" y2="106.6" stroke="#555555" stroke-width="0.8" />
<text x="329" y="108.8" font-family='"Liberation Sans", sans-serif' font-size="5.5" fill="#222">10<tspan font-size="3.8" dy="-2.5">8</tspan></text>
<line x1="338.6" y1="82.3" x2="340.6" y2="82.3" stroke="#555555" stroke-width="0.8" />
<text x="329" y="84.5" font-family='"Liberation Sans", sans-serif' font-size="5.5" fill="#222">10<tspan font-size="3.8" dy="-2.5">7</tspan></text>
<line x1="338.6" y1="58" x2="340.6" y2="58" stroke="#555555" stroke-width="0.8" />
<text x="329" y="60.2" font-family='"Liberation Sans", sans-serif' font-size="5.5" fill="#222">10<tspan font-size="3.8" dy="-2.5">6</tspan></text>
<line x1="338.6" y1="33.7" x2="340.6" y2="33.7" stroke="#555555" stroke-width="0.8" />
<text x="329" y="35.9" font-family='"Liberation Sans", sans-serif' font-size="5.5" fill="#222">10<tspan font-size="3.8" dy="-2.5">5</tspan></text>
<text x="387.6" y="122.3" text-anchor="middle" font-family='"Liberation Sans", sans-serif' font-size="6.5" font-weight="bold" fill="#1a1a1a">Voltage (V)</text>
<text transform="translate(325.6,65) rotate(-90)" text-anchor="middle" font-family='"Liberation Sans", sans-serif' font-size="7.4" fill="#1a1a1a">Log[current(A)]</text>
<line x1="152.6" y1="225.5" x2="152.6" y2="389.4" stroke="#3a3a3a" stroke-width="0.9" />
<line x1="52.3" y1="307.2" x2="252.4" y2="307.2" stroke="#3a3040" stroke-width="1.0" />
<line x1="72.36" y1="363.99" x2="232.84" y2="250.83" stroke="#ee1c1c" stroke-width="1.8" />
<line x1="72.36" y1="381.62" x2="232.84" y2="233.2" stroke="#1f3ff0" stroke-width="1.8" />
<rect x="52.3" y="225.5" width="200.1" height="163.9" fill="none" stroke="#555555" stroke-width="1.2"/>
<line x1="252.4" y1="225.5" x2="252.4" y2="389.4" stroke="#1f3ff0" stroke-width="1.3" />
<line x1="82" y1="389.1" x2="140" y2="389.1" stroke="#3050e0" stroke-width="0.7" opacity="0.7"/>
<line x1="52.3" y1="389" x2="55.3" y2="389" stroke="#555555" stroke-width="1.0" />
<text stroke="#111" stroke-width="0.22" x="48.8" y="392.9" text-anchor="end" font-family='"Liberation Sans", sans-serif' font-size="10.4" fill="#111">-0.20</text>
<line x1="52.3" y1="368.5" x2="55.3" y2="368.5" stroke="#555555" stroke-width="1.0" />
<text stroke="#111" stroke-width="0.22" x="48.8" y="372.4" text-anchor="end" font-family='"Liberation Sans", sans-serif' font-size="10.4" fill="#111">-0.15</text>
<line x1="52.3" y1="348" x2="55.3" y2="348" stroke="#555555" stroke-width="1.0" />
<text stroke="#111" stroke-width="0.22" x="48.8" y="351.9" text-anchor="end" font-family='"Liberation Sans", sans-serif' font-size="10.4" fill="#111">-0.10</text>
<line x1="52.3" y1="327.5" x2="55.3" y2="327.5" stroke="#555555" stroke-width="1.0" />
<text stroke="#111" stroke-width="0.22" x="48.8" y="331.4" text-anchor="end" font-family='"Liberation Sans", sans-serif' font-size="10.4" fill="#111">-0.05</text>
<line x1="52.3" y1="307" x2="55.3" y2="307" stroke="#555555" stroke-width="1.0" />
<text stroke="#111" stroke-width="0.22" x="48.8" y="310.9" text-anchor="end" font-family='"Liberation Sans", sans-serif' font-size="10.4" fill="#111">0.00</text>
<line x1="52.3" y1="286.5" x2="55.3" y2="286.5" stroke="#555555" stroke-width="1.0" />
<text stroke="#111" stroke-width="0.22" x="48.8" y="290.4" text-anchor="end" font-family='"Liberation Sans", sans-serif' font-size="10.4" fill="#111">0.05</text>
<line x1="52.3" y1="266" x2="55.3" y2="266" stroke="#555555" stroke-width="1.0" />
<text stroke="#111" stroke-width="0.22" x="48.8" y="269.9" text-anchor="end" font-family='"Liberation Sans", sans-serif' font-size="10.4" fill="#111">0.10</text>
<line x1="52.3" y1="245.5" x2="55.3" y2="245.5" stroke="#555555" stroke-width="1.0" />
<text stroke="#111" stroke-width="0.22" x="48.8" y="249.4" text-anchor="end" font-family='"Liberation Sans", sans-serif' font-size="10.4" fill="#111">0.15</text>
<line x1="52.3" y1="225" x2="55.3" y2="225" stroke="#555555" stroke-width="1.0" />
<text stroke="#111" stroke-width="0.22" x="48.8" y="228.9" text-anchor="end" font-family='"Liberation Sans", sans-serif' font-size="10.4" fill="#111">0.20</text>
<line x1="52.3" y1="378.75" x2="54.3" y2="378.75" stroke="#555555" stroke-width="1.0" />
<line x1="52.3" y1="358.25" x2="54.3" y2="358.25" stroke="#555555" stroke-width="1.0" />
<line x1="52.3" y1="337.75" x2="54.3" y2="337.75" stroke="#555555" stroke-width="1.0" />
<line x1="52.3" y1="317.25" x2="54.3" y2="317.25" stroke="#555555" stroke-width="1.0" />
<line x1="52.3" y1="296.75" x2="54.3" y2="296.75" stroke="#555555" stroke-width="1.0" />
<line x1="52.3" y1="276.25" x2="54.3" y2="276.25" stroke="#555555" stroke-width="1.0" />
<line x1="52.3" y1="255.75" x2="54.3" y2="255.75" stroke="#555555" stroke-width="1.0" />
<line x1="52.3" y1="235.25" x2="54.3" y2="235.25" stroke="#555555" stroke-width="1.0" />
<line x1="52.29" y1="389.4" x2="52.29" y2="386.4" stroke="#555555" stroke-width="1.0" />
<text stroke="#111" stroke-width="0.22" x="52.29" y="400.5" text-anchor="middle" font-family='"Liberation Sans", sans-serif' font-size="10" fill="#111">-1.5</text>
<line x1="72.36" y1="389.4" x2="72.36" y2="386.4" stroke="#555555" stroke-width="1.0" />
<text stroke="#111" stroke-width="0.22" x="72.36" y="400.5" text-anchor="middle" font-family='"Liberation Sans", sans-serif' font-size="10" fill="#111">-1.2</text>
<line x1="92.42" y1="389.4" x2="92.42" y2="386.4" stroke="#555555" stroke-width="1.0" />
<text stroke="#111" stroke-width="0.22" x="92.42" y="400.5" text-anchor="middle" font-family='"Liberation Sans", sans-serif' font-size="10" fill="#111">-0.9</text>
<line x1="112.48" y1="389.4" x2="112.48" y2="386.4" stroke="#555555" stroke-width="1.0" />
<text stroke="#111" stroke-width="0.22" x="112.48" y="400.5" text-anchor="middle" font-family='"Liberation Sans", sans-serif' font-size="10" fill="#111">-0.6</text>
<line x1="132.54" y1="389.4" x2="132.54" y2="386.4" stroke="#555555" stroke-width="1.0" />
<text stroke="#111" stroke-width="0.22" x="132.54" y="400.5" text-anchor="middle" font-family='"Liberation Sans", sans-serif' font-size="10" fill="#111">-0.3</text>
<line x1="152.6" y1="389.4" x2="152.6" y2="386.4" stroke="#555555" stroke-width="1.0" />
<text stroke="#111" stroke-width="0.22" x="152.6" y="400.5" text-anchor="middle" font-family='"Liberation Sans", sans-serif' font-size="10" fill="#111">0.0</text>
<line x1="172.66" y1="389.4" x2="172.66" y2="386.4" stroke="#555555" stroke-width="1.0" />
<text stroke="#111" stroke-width="0.22" x="172.66" y="400.5" text-anchor="middle" font-family='"Liberation Sans", sans-serif' font-size="10" fill="#111">0.3</text>
<line x1="192.72" y1="389.4" x2="192.72" y2="386.4" stroke="#555555" stroke-width="1.0" />
<text stroke="#111" stroke-width="0.22" x="192.72" y="400.5" text-anchor="middle" font-family='"Liberation Sans", sans-serif' font-size="10" fill="#111">0.6</text>
<line x1="212.78" y1="389.4" x2="212.78" y2="386.4" stroke="#555555" stroke-width="1.0" />
<text stroke="#111" stroke-width="0.22" x="212.78" y="400.5" text-anchor="middle" font-family='"Liberation Sans", sans-serif' font-size="10" fill="#111">0.9</text>
<line x1="232.84" y1="389.4" x2="232.84" y2="386.4" stroke="#555555" stroke-width="1.0" />
<text stroke="#111" stroke-width="0.22" x="232.84" y="400.5" text-anchor="middle" font-family='"Liberation Sans", sans-serif' font-size="10" fill="#111">1.2</text>
<line x1="252.91" y1="389.4" x2="252.91" y2="386.4" stroke="#555555" stroke-width="1.0" />
<text stroke="#111" stroke-width="0.22" x="252.91" y="400.5" text-anchor="middle" font-family='"Liberation Sans", sans-serif' font-size="10" fill="#111">1.5</text>
<line x1="62.33" y1="389.4" x2="62.33" y2="387.4" stroke="#555555" stroke-width="1.0" />
<line x1="82.39" y1="389.4" x2="82.39" y2="387.4" stroke="#555555" stroke-width="1.0" />
<line x1="102.45" y1="389.4" x2="102.45" y2="387.4" stroke="#555555" stroke-width="1.0" />
<line x1="122.51" y1="389.4" x2="122.51" y2="387.4" stroke="#555555" stroke-width="1.0" />
<line x1="142.57" y1="389.4" x2="142.57" y2="387.4" stroke="#555555" stroke-width="1.0" />
<line x1="162.63" y1="389.4" x2="162.63" y2="387.4" stroke="#555555" stroke-width="1.0" />
<line x1="182.69" y1="389.4" x2="182.69" y2="387.4" stroke="#555555" stroke-width="1.0" />
<line x1="202.75" y1="389.4" x2="202.75" y2="387.4" stroke="#555555" stroke-width="1.0" />
<line x1="222.81" y1="389.4" x2="222.81" y2="387.4" stroke="#555555" stroke-width="1.0" />
<line x1="242.87" y1="389.4" x2="242.87" y2="387.4" stroke="#555555" stroke-width="1.0" />
<line x1="249.4" y1="380.2" x2="252.4" y2="380.2" stroke="#1f3ff0" stroke-width="1.0" />
<text stroke="#111" stroke-width="0.22" x="256" y="384.5" font-family='"Liberation Sans", sans-serif' font-size="10.3" fill="#111">-8</text>
<line x1="249.4" y1="361.9" x2="252.4" y2="361.9" stroke="#1f3ff0" stroke-width="1.0" />
<text stroke="#111" stroke-width="0.22" x="256" y="366.2" font-family='"Liberation Sans", sans-serif' font-size="10.3" fill="#111">-6</text>
<line x1="249.4" y1="343.6" x2="252.4" y2="343.6" stroke="#1f3ff0" stroke-width="1.0" />
<text stroke="#111" stroke-width="0.22" x="256" y="347.9" font-family='"Liberation Sans", sans-serif' font-size="10.3" fill="#111">-4</text>
<line x1="249.4" y1="325.3" x2="252.4" y2="325.3" stroke="#1f3ff0" stroke-width="1.0" />
<text stroke="#111" stroke-width="0.22" x="256" y="329.6" font-family='"Liberation Sans", sans-serif' font-size="10.3" fill="#111">-2</text>
<line x1="249.4" y1="307" x2="252.4" y2="307" stroke="#1f3ff0" stroke-width="1.0" />
<text stroke="#111" stroke-width="0.22" x="256" y="311.3" font-family='"Liberation Sans", sans-serif' font-size="10.3" fill="#111">0</text>
<line x1="249.4" y1="288.7" x2="252.4" y2="288.7" stroke="#1f3ff0" stroke-width="1.0" />
<text stroke="#111" stroke-width="0.22" x="256" y="293" font-family='"Liberation Sans", sans-serif' font-size="10.3" fill="#111">2</text>
<line x1="249.4" y1="270.4" x2="252.4" y2="270.4" stroke="#1f3ff0" stroke-width="1.0" />
<text stroke="#111" stroke-width="0.22" x="256" y="274.7" font-family='"Liberation Sans", sans-serif' font-size="10.3" fill="#111">4</text>
<line x1="249.4" y1="252.1" x2="252.4" y2="252.1" stroke="#1f3ff0" stroke-width="1.0" />
<text stroke="#111" stroke-width="0.22" x="256" y="256.4" font-family='"Liberation Sans", sans-serif' font-size="10.3" fill="#111">6</text>
<line x1="249.4" y1="233.8" x2="252.4" y2="233.8" stroke="#1f3ff0" stroke-width="1.0" />
<text stroke="#111" stroke-width="0.22" x="256" y="238.1" font-family='"Liberation Sans", sans-serif' font-size="10.3" fill="#111">8</text>
<line x1="250.4" y1="389.35" x2="252.4" y2="389.35" stroke="#1f3ff0" stroke-width="1.0" />
<line x1="250.4" y1="371.05" x2="252.4" y2="371.05" stroke="#1f3ff0" stroke-width="1.0" />
<line x1="250.4" y1="352.75" x2="252.4" y2="352.75" stroke="#1f3ff0" stroke-width="1.0" />
<line x1="250.4" y1="334.45" x2="252.4" y2="334.45" stroke="#1f3ff0" stroke-width="1.0" />
<line x1="250.4" y1="316.15" x2="252.4" y2="316.15" stroke="#1f3ff0" stroke-width="1.0" />
<line x1="250.4" y1="297.85" x2="252.4" y2="297.85" stroke="#1f3ff0" stroke-width="1.0" />
<line x1="250.4" y1="279.55" x2="252.4" y2="279.55" stroke="#1f3ff0" stroke-width="1.0" />
<line x1="250.4" y1="261.25" x2="252.4" y2="261.25" stroke="#1f3ff0" stroke-width="1.0" />
<line x1="250.4" y1="242.95" x2="252.4" y2="242.95" stroke="#1f3ff0" stroke-width="1.0" />
<line x1="250.4" y1="224.65" x2="252.4" y2="224.65" stroke="#1f3ff0" stroke-width="1.0" />
<text stroke="#111" stroke-width="0.22" x="152" y="415.6" text-anchor="middle" font-family='"Liberation Sans", sans-serif' font-size="12.3" fill="#111">Voltage (V)</text>
<text stroke="#111" stroke-width="0.22" transform="translate(18.2,315.4) rotate(-90)" text-anchor="middle" font-family='"Liberation Sans", sans-serif' font-size="12.3" fill="#111">Current (mA)</text>
<text stroke="#2a48ea" stroke-width="0.22" transform="translate(277.6,315) rotate(-90)" text-anchor="middle" font-family='"Liberation Sans", sans-serif' font-size="12.3" fill="#2a48ea">Current (mA)</text>
<text stroke="#111" stroke-width="0.22" x="170" y="237.8" font-family='"Liberation Sans", sans-serif' font-weight="bold" font-size="9" fill="#111">(c)</text>
<rect x="56" y="231.8" width="76" height="24.5" fill="#111"/>
<rect x="54.2" y="229.9" width="75.8" height="24.2" fill="#fff" stroke="#111" stroke-width="0.9"/>
<line x1="56.5" y1="237.7" x2="68.8" y2="237.7" stroke="#ee1c1c" stroke-width="1.3" />
<line x1="56.5" y1="249.5" x2="68.8" y2="249.5" stroke="#1f3ff0" stroke-width="1.3" />
<text stroke="#111" stroke-width="0.22" x="73.7" y="239.7" font-family='"Liberation Sans", sans-serif' font-size="9" fill="#111">Phosphorene</text>
<text stroke="#111" stroke-width="0.22" x="72.9" y="251.1" font-family='"Liberation Sans", sans-serif' font-size="9" fill="#111">AZO</text>
<ellipse cx="210.8" cy="246.7" rx="8" ry="15.8" fill="none" stroke="#1f3ff0" stroke-width="1.5"/>
<polyline points="207.7,231 238,230.7" fill="none" stroke="#1f3ff0" stroke-width="1.5"/>
<polygon points="246,230.5 235,226.5 237.5,230.6 235,234.5" fill="#1f3ff0"/>
<ellipse cx="89" cy="344" rx="8.1" ry="15.4" fill="none" stroke="#ee1c1c" stroke-width="1.5"/>
<polyline points="88.6,327.7 68,327.3" fill="none" stroke="#ee1c1c" stroke-width="1.5"/>
<polygon points="60.6,327.2 71.5,323.2 69,327.3 71.5,331.2" fill="#ee1c1c"/>
<rect x="314.4" y="233.7" width="192.5" height="155.7" fill="none" stroke="#555555" stroke-width="1.1"/>
<line x1="311.4" y1="375.2" x2="314.4" y2="375.2" stroke="#555555" stroke-width="1.0" />
<text stroke="#111" stroke-width="0.22" x="310.3" y="378.8" text-anchor="end" font-family='"Liberation Sans", sans-serif' font-size="10" fill="#111">3</text>
<line x1="311.4" y1="346.9" x2="314.4" y2="346.9" stroke="#555555" stroke-width="1.0" />
<text stroke="#111" stroke-width="0.22" x="310.3" y="350.5" text-anchor="end" font-family='"Liberation Sans", sans-serif' font-size="10" fill="#111">4</text>
<line x1="311.4" y1="318.6" x2="314.4" y2="318.6" stroke="#555555" stroke-width="1.0" />
<text stroke="#111" stroke-width="0.22" x="310.3" y="322.2" text-anchor="end" font-family='"Liberation Sans", sans-serif' font-size="10" fill="#111">5</text>
<line x1="311.4" y1="290.3" x2="314.4" y2="290.3" stroke="#555555" stroke-width="1.0" />
<text stroke="#111" stroke-width="0.22" x="310.3" y="293.9" text-anchor="end" font-family='"Liberation Sans", sans-serif' font-size="10" fill="#111">6</text>
<line x1="311.4" y1="262" x2="314.4" y2="262" stroke="#555555" stroke-width="1.0" />
<text stroke="#111" stroke-width="0.22" x="310.3" y="265.6" text-anchor="end" font-family='"Liberation Sans", sans-serif' font-size="10" fill="#111">7</text>
<line x1="311.4" y1="233.7" x2="314.4" y2="233.7" stroke="#555555" stroke-width="1.0" />
<text stroke="#111" stroke-width="0.22" x="310.3" y="237.3" text-anchor="end" font-family='"Liberation Sans", sans-serif' font-size="10" fill="#111">8</text>
<line x1="312.4" y1="389.35" x2="314.4" y2="389.35" stroke="#555555" stroke-width="1.0" />
<line x1="312.4" y1="361.05" x2="314.4" y2="361.05" stroke="#555555" stroke-width="1.0" />
<line x1="312.4" y1="332.75" x2="314.4" y2="332.75" stroke="#555555" stroke-width="1.0" />
<line x1="312.4" y1="304.45" x2="314.4" y2="304.45" stroke="#555555" stroke-width="1.0" />
<line x1="312.4" y1="276.15" x2="314.4" y2="276.15" stroke="#555555" stroke-width="1.0" />
<line x1="312.4" y1="247.85" x2="314.4" y2="247.85" stroke="#555555" stroke-width="1.0" />
<line x1="331.9" y1="389.4" x2="331.9" y2="392.4" stroke="#555555" stroke-width="1.0" />
<text stroke="#111" stroke-width="0.22" x="331.9" y="402.5" text-anchor="middle" font-family='"Liberation Sans", sans-serif' font-size="10" fill="#111">100</text>
<line x1="366.9" y1="389.4" x2="366.9" y2="392.4" stroke="#555555" stroke-width="1.0" />
<text stroke="#111" stroke-width="0.22" x="366.9" y="402.5" text-anchor="middle" font-family='"Liberation Sans", sans-serif' font-size="10" fill="#111">200</text>
<line x1="401.9" y1="389.4" x2="401.9" y2="392.4" stroke="#555555" stroke-width="1.0" />
<text stroke="#111" stroke-width="0.22" x="401.9" y="402.5" text-anchor="middle" font-family='"Liberation Sans", sans-serif' font-size="10" fill="#111">300</text>
<line x1="436.9" y1="389.4" x2="436.9" y2="392.4" stroke="#555555" stroke-width="1.0" />
<text stroke="#111" stroke-width="0.22" x="436.9" y="402.5" text-anchor="middle" font-family='"Liberation Sans", sans-serif' font-size="10" fill="#111">400</text>
<line x1="471.9" y1="389.4" x2="471.9" y2="392.4" stroke="#555555" stroke-width="1.0" />
<text stroke="#111" stroke-width="0.22" x="471.9" y="402.5" text-anchor="middle" font-family='"Liberation Sans", sans-serif' font-size="10" fill="#111">500</text>
<line x1="506.9" y1="389.4" x2="506.9" y2="392.4" stroke="#555555" stroke-width="1.0" />
<text stroke="#111" stroke-width="0.22" x="506.9" y="402.5" text-anchor="middle" font-family='"Liberation Sans", sans-serif' font-size="10" fill="#111">600</text>
<line x1="314.4" y1="389.4" x2="314.4" y2="391.4" stroke="#555555" stroke-width="1.0" />
<line x1="349.4" y1="389.4" x2="349.4" y2="391.4" stroke="#555555" stroke-width="1.0" />
<line x1="384.4" y1="389.4" x2="384.4" y2="391.4" stroke="#555555" stroke-width="1.0" />
<line x1="419.4" y1="389.4" x2="419.4" y2="391.4" stroke="#555555" stroke-width="1.0" />
<line x1="454.4" y1="389.4" x2="454.4" y2="391.4" stroke="#555555" stroke-width="1.0" />
<line x1="489.4" y1="389.4" x2="489.4" y2="391.4" stroke="#555555" stroke-width="1.0" />
<path d="M331.9,248.13 L366.9,257.61 L401.9,275.39 L436.9,342.29 L471.9,364.9" fill="none" stroke="#1f3ff0" stroke-width="2.2"/>
<polygon points="331.9,243.93 336.1,248.13 331.9,252.33 327.7,248.13" fill="#fff" stroke="#4060f0" stroke-width="0.9"/>
<polygon points="366.9,253.41 371.1,257.61 366.9,261.81 362.7,257.61" fill="#fff" stroke="#4060f0" stroke-width="0.9"/>
<polygon points="401.9,271.19 406.1,275.39 401.9,279.59 397.7,275.39" fill="#fff" stroke="#4060f0" stroke-width="0.9"/>
<polygon points="436.9,338.09 441.1,342.29 436.9,346.49 432.7,342.29" fill="#fff" stroke="#4060f0" stroke-width="0.9"/>
<polygon points="471.9,360.7 476.1,364.9 471.9,369.1 467.7,364.9" fill="#fff" stroke="#4060f0" stroke-width="0.9"/>
<text stroke="#111" stroke-width="0.22" x="490" y="246" font-family='"Liberation Sans", sans-serif' font-weight="bold" font-size="10.3" fill="#111">(d)</text>
<text stroke="#111" stroke-width="0.22" transform="translate(296.9,314.4) rotate(-90)" text-anchor="middle" font-family='"Liberation Sans", sans-serif' font-size="12.7" fill="#111">Diode Ideality Factor</text>
<text stroke="#111" stroke-width="0.22" x="331" y="415.9" font-family='"Liberation Sans", sans-serif' font-size="13" fill="#111">Annealing Temperature (<tspan font-size="8" dy="-5">o</tspan><tspan dy="5">C)</tspan></text>
</svg>
</body></html>
